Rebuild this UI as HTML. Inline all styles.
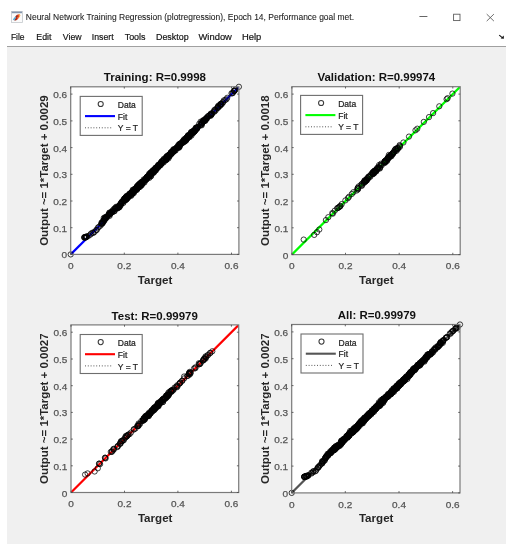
<!DOCTYPE html>
<html><head><meta charset="utf-8"><title>Neural Network Training Regression (plotregression)</title>
<style>
html,body{margin:0;padding:0;background:#fff;}
body{width:512px;height:550px;overflow:hidden;position:relative;font-family:"Liberation Sans", Arial, Helvetica, sans-serif;}
svg{filter:blur(0.3px);}
svg text{font-family:"Liberation Sans", Arial, Helvetica, sans-serif;}
</style></head><body>
<svg width="512" height="550" viewBox="0 0 512 550" style="position:absolute;left:0;top:0">
<rect x="0" y="0" width="512" height="550" fill="#ffffff"/>
<rect x="7" y="46" width="499" height="498" fill="#f0f0f0"/>
<rect x="7" y="46" width="499" height="1" fill="#a0a0a0"/>
<g><rect x="11.4" y="11.4" width="11" height="11" fill="#fbfbfb" stroke="#c4c8cc" stroke-width="0.8"/><rect x="11.8" y="11.6" width="10.2" height="1.6" fill="#8496ad"/><polygon points="12.8,19.6 15.2,16.6 16.2,17.2 14.2,20.4" fill="#4fb0e0"/><polygon points="15.2,16.6 17.0,14.8 18.2,15.6 17.2,19.6 16.0,20.4 14.2,20.4 16.2,17.2" fill="#9c2a1c"/><polygon points="17.0,14.8 18.6,14.2 19.6,15.2 18.4,18.6 17.0,19.8 16.6,19.4 18.2,15.6" fill="#ee4a1a"/><polygon points="18.6,14.2 19.8,14.0 20.4,15.4 19.4,17.4 18.6,17.8 19.6,15.2" fill="#f4a53a"/></g>
<text x="25.8" y="20.3" font-size="8.9" textLength="328.2" lengthAdjust="spacingAndGlyphs" fill="#222" stroke="#222" stroke-width="0.08">Neural Network Training Regression (plotregression), Epoch 14, Performance goal met.</text>
<rect x="419.4" y="16" width="8" height="0.9" fill="#555"/>
<rect x="453.6" y="14.2" width="6.4" height="6.4" fill="none" stroke="#555" stroke-width="0.85"/>
<path d="M486.7,14.1 L493.9,21.1 M493.9,14.1 L486.7,21.1" stroke="#555" stroke-width="0.85" fill="none"/>
<text x="10.9" y="40.3" font-size="9.2" textLength="13.7" lengthAdjust="spacingAndGlyphs" fill="#111" stroke="#111" stroke-width="0.18">File</text>
<text x="36.3" y="40.3" font-size="9.2" textLength="15.2" lengthAdjust="spacingAndGlyphs" fill="#111" stroke="#111" stroke-width="0.18">Edit</text>
<text x="62.8" y="40.3" font-size="9.2" textLength="18.8" lengthAdjust="spacingAndGlyphs" fill="#111" stroke="#111" stroke-width="0.18">View</text>
<text x="91.8" y="40.3" font-size="9.2" textLength="21.8" lengthAdjust="spacingAndGlyphs" fill="#111" stroke="#111" stroke-width="0.18">Insert</text>
<text x="124.7" y="40.3" font-size="9.2" textLength="20.8" lengthAdjust="spacingAndGlyphs" fill="#111" stroke="#111" stroke-width="0.18">Tools</text>
<text x="156.0" y="40.3" font-size="9.2" textLength="32.6" lengthAdjust="spacingAndGlyphs" fill="#111" stroke="#111" stroke-width="0.18">Desktop</text>
<text x="198.5" y="40.3" font-size="9.2" textLength="33.4" lengthAdjust="spacingAndGlyphs" fill="#111" stroke="#111" stroke-width="0.18">Window</text>
<text x="241.9" y="40.3" font-size="9.2" textLength="19.3" lengthAdjust="spacingAndGlyphs" fill="#111" stroke="#111" stroke-width="0.18">Help</text>
<path d="M499.2,35.1 L502.3,37.6" stroke="#111" stroke-width="1.1"/><polygon points="503.9,38.7 500.7,38.5 503.7,35.6" fill="#111"/>
<rect x="70.7" y="86.8" width="168.2" height="167.6" fill="#ffffff"/>
<clipPath id="ctrain"><rect x="70.7" y="86.8" width="168.2" height="167.6"/></clipPath>
<g clip-path="url(#ctrain)">
<line x1="70.7" y1="254.4" x2="238.9" y2="86.8" stroke="#000" stroke-width="0.6" stroke-dasharray="0.8 1.6"/>
<line x1="70.7" y1="254.4" x2="238.9" y2="86.8" stroke="#0000ff" stroke-width="2.2"/>
</g>
<g fill="none" stroke="#000" stroke-width="1.0" stroke-opacity="0.75"><circle cx="70.7" cy="254.4" r="2.65"/><circle cx="238.9" cy="86.8" r="2.65"/><circle cx="85.6" cy="236.9" r="2.65"/><circle cx="84.4" cy="237.1" r="2.65"/><circle cx="86.5" cy="237.0" r="2.65"/><circle cx="86.4" cy="236.9" r="2.65"/><circle cx="84.3" cy="237.7" r="2.65"/><circle cx="84.5" cy="237.4" r="2.65"/><circle cx="86.0" cy="237.0" r="2.65"/><circle cx="85.1" cy="237.5" r="2.65"/><circle cx="87.0" cy="236.4" r="2.65"/><circle cx="85.9" cy="237.3" r="2.65"/><circle cx="88.6" cy="235.8" r="2.65"/><circle cx="85.4" cy="237.0" r="2.65"/><circle cx="90.4" cy="234.6" r="2.65"/><circle cx="91.1" cy="233.5" r="2.65"/><circle cx="92.7" cy="232.6" r="2.65"/><circle cx="93.4" cy="232.9" r="2.65"/><circle cx="94.6" cy="231.9" r="2.65"/><circle cx="96.2" cy="230.1" r="2.65"/><circle cx="96.8" cy="229.8" r="2.65"/><circle cx="97.9" cy="227.6" r="2.65"/><circle cx="98.9" cy="226.9" r="2.65"/><circle cx="100.6" cy="225.6" r="2.65"/><circle cx="106.7" cy="217.7" r="2.65"/><circle cx="121.4" cy="203.7" r="2.65"/><circle cx="118.0" cy="207.4" r="2.65"/><circle cx="103.7" cy="218.1" r="2.65"/><circle cx="110.7" cy="212.8" r="2.65"/><circle cx="112.4" cy="211.8" r="2.65"/><circle cx="101.9" cy="223.8" r="2.65"/><circle cx="114.4" cy="211.0" r="2.65"/><circle cx="121.4" cy="203.8" r="2.65"/><circle cx="114.9" cy="208.1" r="2.65"/><circle cx="114.5" cy="211.2" r="2.65"/><circle cx="123.0" cy="200.9" r="2.65"/><circle cx="112.0" cy="211.7" r="2.65"/><circle cx="117.3" cy="207.6" r="2.65"/><circle cx="116.1" cy="206.8" r="2.65"/><circle cx="107.6" cy="215.9" r="2.65"/><circle cx="110.0" cy="213.7" r="2.65"/><circle cx="111.8" cy="212.0" r="2.65"/><circle cx="104.9" cy="218.5" r="2.65"/><circle cx="118.9" cy="205.9" r="2.65"/><circle cx="104.0" cy="220.0" r="2.65"/><circle cx="121.3" cy="202.5" r="2.65"/><circle cx="102.9" cy="222.7" r="2.65"/><circle cx="121.6" cy="202.7" r="2.65"/><circle cx="120.1" cy="204.3" r="2.65"/><circle cx="110.7" cy="213.4" r="2.65"/><circle cx="109.4" cy="212.6" r="2.65"/><circle cx="104.5" cy="220.7" r="2.65"/><circle cx="105.1" cy="218.4" r="2.65"/><circle cx="112.3" cy="210.7" r="2.65"/><circle cx="114.7" cy="209.4" r="2.65"/><circle cx="110.8" cy="212.7" r="2.65"/><circle cx="109.6" cy="215.9" r="2.65"/><circle cx="117.1" cy="208.4" r="2.65"/><circle cx="113.0" cy="211.7" r="2.65"/><circle cx="102.2" cy="223.4" r="2.65"/><circle cx="122.0" cy="202.3" r="2.65"/><circle cx="119.6" cy="207.0" r="2.65"/><circle cx="110.1" cy="213.7" r="2.65"/><circle cx="115.8" cy="208.3" r="2.65"/><circle cx="102.4" cy="221.8" r="2.65"/><circle cx="104.8" cy="218.7" r="2.65"/><circle cx="108.9" cy="214.6" r="2.65"/><circle cx="104.5" cy="219.3" r="2.65"/><circle cx="103.4" cy="221.1" r="2.65"/><circle cx="121.4" cy="203.1" r="2.65"/><circle cx="115.3" cy="208.6" r="2.65"/><circle cx="109.1" cy="213.9" r="2.65"/><circle cx="109.5" cy="212.9" r="2.65"/><circle cx="124.1" cy="198.9" r="2.65"/><circle cx="111.9" cy="212.1" r="2.65"/><circle cx="103.4" cy="220.9" r="2.65"/><circle cx="109.0" cy="214.7" r="2.65"/><circle cx="104.8" cy="217.4" r="2.65"/><circle cx="101.5" cy="222.6" r="2.65"/><circle cx="104.4" cy="219.8" r="2.65"/><circle cx="113.7" cy="209.2" r="2.65"/><circle cx="123.8" cy="200.3" r="2.65"/><circle cx="121.1" cy="203.8" r="2.65"/><circle cx="109.5" cy="214.6" r="2.65"/><circle cx="104.9" cy="218.6" r="2.65"/><circle cx="119.2" cy="206.9" r="2.65"/><circle cx="108.7" cy="214.6" r="2.65"/><circle cx="124.0" cy="198.8" r="2.65"/><circle cx="120.9" cy="203.3" r="2.65"/><circle cx="118.2" cy="208.1" r="2.65"/><circle cx="106.3" cy="217.9" r="2.65"/><circle cx="101.7" cy="223.5" r="2.65"/><circle cx="101.6" cy="223.6" r="2.65"/><circle cx="117.1" cy="206.8" r="2.65"/><circle cx="123.3" cy="203.0" r="2.65"/><circle cx="124.0" cy="199.6" r="2.65"/><circle cx="123.3" cy="201.5" r="2.65"/><circle cx="106.3" cy="216.7" r="2.65"/><circle cx="105.6" cy="217.4" r="2.65"/><circle cx="122.0" cy="201.4" r="2.65"/><circle cx="120.6" cy="205.4" r="2.65"/><circle cx="119.6" cy="205.1" r="2.65"/><circle cx="103.0" cy="222.5" r="2.65"/><circle cx="119.2" cy="207.3" r="2.65"/><circle cx="174.6" cy="150.7" r="2.65"/><circle cx="177.2" cy="147.5" r="2.65"/><circle cx="146.6" cy="177.3" r="2.65"/><circle cx="150.8" cy="176.0" r="2.65"/><circle cx="151.2" cy="172.0" r="2.65"/><circle cx="135.7" cy="189.5" r="2.65"/><circle cx="132.8" cy="190.8" r="2.65"/><circle cx="178.4" cy="144.9" r="2.65"/><circle cx="134.1" cy="189.5" r="2.65"/><circle cx="168.4" cy="158.5" r="2.65"/><circle cx="147.8" cy="177.3" r="2.65"/><circle cx="125.3" cy="199.2" r="2.65"/><circle cx="189.4" cy="136.2" r="2.65"/><circle cx="186.9" cy="138.9" r="2.65"/><circle cx="153.4" cy="170.1" r="2.65"/><circle cx="138.5" cy="187.5" r="2.65"/><circle cx="141.2" cy="183.7" r="2.65"/><circle cx="163.6" cy="160.4" r="2.65"/><circle cx="141.7" cy="183.4" r="2.65"/><circle cx="185.3" cy="139.4" r="2.65"/><circle cx="148.0" cy="177.7" r="2.65"/><circle cx="184.9" cy="139.7" r="2.65"/><circle cx="152.5" cy="171.2" r="2.65"/><circle cx="159.9" cy="165.2" r="2.65"/><circle cx="159.4" cy="164.3" r="2.65"/><circle cx="136.6" cy="188.0" r="2.65"/><circle cx="124.6" cy="199.5" r="2.65"/><circle cx="156.0" cy="169.1" r="2.65"/><circle cx="172.9" cy="152.6" r="2.65"/><circle cx="159.0" cy="165.8" r="2.65"/><circle cx="161.5" cy="163.0" r="2.65"/><circle cx="161.9" cy="163.2" r="2.65"/><circle cx="141.0" cy="184.0" r="2.65"/><circle cx="158.3" cy="164.8" r="2.65"/><circle cx="162.0" cy="162.6" r="2.65"/><circle cx="154.0" cy="172.5" r="2.65"/><circle cx="165.4" cy="160.3" r="2.65"/><circle cx="170.7" cy="154.0" r="2.65"/><circle cx="154.6" cy="171.0" r="2.65"/><circle cx="187.4" cy="137.7" r="2.65"/><circle cx="171.2" cy="152.0" r="2.65"/><circle cx="141.7" cy="184.5" r="2.65"/><circle cx="161.8" cy="161.2" r="2.65"/><circle cx="133.5" cy="191.9" r="2.65"/><circle cx="132.5" cy="192.6" r="2.65"/><circle cx="140.4" cy="184.1" r="2.65"/><circle cx="129.2" cy="196.1" r="2.65"/><circle cx="184.4" cy="141.8" r="2.65"/><circle cx="134.7" cy="190.4" r="2.65"/><circle cx="133.9" cy="192.1" r="2.65"/><circle cx="183.5" cy="140.8" r="2.65"/><circle cx="188.1" cy="136.9" r="2.65"/><circle cx="151.0" cy="176.3" r="2.65"/><circle cx="180.1" cy="144.5" r="2.65"/><circle cx="135.1" cy="190.6" r="2.65"/><circle cx="147.0" cy="177.2" r="2.65"/><circle cx="137.4" cy="187.9" r="2.65"/><circle cx="125.6" cy="197.4" r="2.65"/><circle cx="161.4" cy="163.3" r="2.65"/><circle cx="146.5" cy="178.0" r="2.65"/><circle cx="166.1" cy="158.8" r="2.65"/><circle cx="190.3" cy="134.7" r="2.65"/><circle cx="177.1" cy="147.2" r="2.65"/><circle cx="142.1" cy="182.6" r="2.65"/><circle cx="127.0" cy="197.3" r="2.65"/><circle cx="133.0" cy="192.5" r="2.65"/><circle cx="152.6" cy="170.6" r="2.65"/><circle cx="141.6" cy="183.9" r="2.65"/><circle cx="134.3" cy="189.4" r="2.65"/><circle cx="171.2" cy="154.0" r="2.65"/><circle cx="130.3" cy="193.1" r="2.65"/><circle cx="152.8" cy="171.3" r="2.65"/><circle cx="129.2" cy="194.2" r="2.65"/><circle cx="178.0" cy="147.2" r="2.65"/><circle cx="129.9" cy="194.5" r="2.65"/><circle cx="182.1" cy="143.0" r="2.65"/><circle cx="154.7" cy="170.5" r="2.65"/><circle cx="186.4" cy="137.6" r="2.65"/><circle cx="142.3" cy="181.7" r="2.65"/><circle cx="140.3" cy="183.6" r="2.65"/><circle cx="131.6" cy="192.9" r="2.65"/><circle cx="137.8" cy="186.7" r="2.65"/><circle cx="145.2" cy="179.9" r="2.65"/><circle cx="143.7" cy="179.5" r="2.65"/><circle cx="157.8" cy="166.4" r="2.65"/><circle cx="125.5" cy="198.0" r="2.65"/><circle cx="141.1" cy="182.2" r="2.65"/><circle cx="161.2" cy="163.2" r="2.65"/><circle cx="137.0" cy="189.8" r="2.65"/><circle cx="131.4" cy="193.0" r="2.65"/><circle cx="179.2" cy="146.6" r="2.65"/><circle cx="180.2" cy="144.2" r="2.65"/><circle cx="150.7" cy="175.3" r="2.65"/><circle cx="190.1" cy="134.9" r="2.65"/><circle cx="147.3" cy="176.7" r="2.65"/><circle cx="166.9" cy="158.9" r="2.65"/><circle cx="151.4" cy="173.3" r="2.65"/><circle cx="133.0" cy="191.5" r="2.65"/><circle cx="129.0" cy="195.5" r="2.65"/><circle cx="135.2" cy="190.2" r="2.65"/><circle cx="130.0" cy="193.7" r="2.65"/><circle cx="169.2" cy="156.9" r="2.65"/><circle cx="143.2" cy="181.4" r="2.65"/><circle cx="155.1" cy="168.8" r="2.65"/><circle cx="134.9" cy="190.5" r="2.65"/><circle cx="188.8" cy="136.0" r="2.65"/><circle cx="189.5" cy="136.1" r="2.65"/><circle cx="189.0" cy="136.1" r="2.65"/><circle cx="145.1" cy="179.6" r="2.65"/><circle cx="149.9" cy="174.7" r="2.65"/><circle cx="156.1" cy="169.1" r="2.65"/><circle cx="158.1" cy="166.5" r="2.65"/><circle cx="124.6" cy="199.6" r="2.65"/><circle cx="151.1" cy="173.1" r="2.65"/><circle cx="127.1" cy="196.6" r="2.65"/><circle cx="139.9" cy="184.7" r="2.65"/><circle cx="163.6" cy="162.5" r="2.65"/><circle cx="168.4" cy="156.6" r="2.65"/><circle cx="172.3" cy="151.8" r="2.65"/><circle cx="146.2" cy="179.1" r="2.65"/><circle cx="190.3" cy="133.8" r="2.65"/><circle cx="167.4" cy="156.1" r="2.65"/><circle cx="127.2" cy="196.2" r="2.65"/><circle cx="166.3" cy="159.9" r="2.65"/><circle cx="173.5" cy="151.1" r="2.65"/><circle cx="159.4" cy="165.7" r="2.65"/><circle cx="158.1" cy="165.7" r="2.65"/><circle cx="179.7" cy="146.5" r="2.65"/><circle cx="163.4" cy="160.1" r="2.65"/><circle cx="170.8" cy="154.8" r="2.65"/><circle cx="139.7" cy="184.5" r="2.65"/><circle cx="148.5" cy="176.0" r="2.65"/><circle cx="131.3" cy="192.8" r="2.65"/><circle cx="166.4" cy="159.2" r="2.65"/><circle cx="166.3" cy="158.8" r="2.65"/><circle cx="124.5" cy="200.6" r="2.65"/><circle cx="177.8" cy="147.0" r="2.65"/><circle cx="160.2" cy="165.5" r="2.65"/><circle cx="168.5" cy="154.9" r="2.65"/><circle cx="141.2" cy="182.9" r="2.65"/><circle cx="129.3" cy="195.4" r="2.65"/><circle cx="138.1" cy="185.2" r="2.65"/><circle cx="173.9" cy="149.8" r="2.65"/><circle cx="149.9" cy="174.8" r="2.65"/><circle cx="156.4" cy="168.8" r="2.65"/><circle cx="165.7" cy="160.4" r="2.65"/><circle cx="167.4" cy="156.8" r="2.65"/><circle cx="141.3" cy="183.1" r="2.65"/><circle cx="174.1" cy="151.0" r="2.65"/><circle cx="125.1" cy="198.1" r="2.65"/><circle cx="128.4" cy="196.3" r="2.65"/><circle cx="170.7" cy="152.7" r="2.65"/><circle cx="169.6" cy="155.4" r="2.65"/><circle cx="155.4" cy="168.1" r="2.65"/><circle cx="155.6" cy="167.7" r="2.65"/><circle cx="137.7" cy="185.8" r="2.65"/><circle cx="189.9" cy="135.0" r="2.65"/><circle cx="155.1" cy="169.6" r="2.65"/><circle cx="179.3" cy="144.6" r="2.65"/><circle cx="142.3" cy="182.6" r="2.65"/><circle cx="138.4" cy="185.8" r="2.65"/><circle cx="163.3" cy="161.6" r="2.65"/><circle cx="133.8" cy="193.1" r="2.65"/><circle cx="133.2" cy="191.9" r="2.65"/><circle cx="179.3" cy="147.4" r="2.65"/><circle cx="171.4" cy="153.4" r="2.65"/><circle cx="139.8" cy="184.1" r="2.65"/><circle cx="126.0" cy="199.0" r="2.65"/><circle cx="124.6" cy="200.7" r="2.65"/><circle cx="144.5" cy="180.1" r="2.65"/><circle cx="133.7" cy="191.5" r="2.65"/><circle cx="180.6" cy="143.6" r="2.65"/><circle cx="124.4" cy="199.8" r="2.65"/><circle cx="132.4" cy="194.1" r="2.65"/><circle cx="186.4" cy="139.0" r="2.65"/><circle cx="143.7" cy="182.8" r="2.65"/><circle cx="149.3" cy="177.9" r="2.65"/><circle cx="163.8" cy="158.8" r="2.65"/><circle cx="148.5" cy="176.8" r="2.65"/><circle cx="127.5" cy="196.6" r="2.65"/><circle cx="131.1" cy="193.2" r="2.65"/><circle cx="187.0" cy="138.6" r="2.65"/><circle cx="141.0" cy="183.8" r="2.65"/><circle cx="137.0" cy="186.7" r="2.65"/><circle cx="149.3" cy="173.5" r="2.65"/><circle cx="178.7" cy="146.6" r="2.65"/><circle cx="166.6" cy="156.3" r="2.65"/><circle cx="161.1" cy="164.6" r="2.65"/><circle cx="172.5" cy="150.8" r="2.65"/><circle cx="154.5" cy="169.6" r="2.65"/><circle cx="174.7" cy="150.5" r="2.65"/><circle cx="127.6" cy="197.4" r="2.65"/><circle cx="186.4" cy="137.8" r="2.65"/><circle cx="147.3" cy="176.6" r="2.65"/><circle cx="144.3" cy="180.6" r="2.65"/><circle cx="141.7" cy="185.3" r="2.65"/><circle cx="168.3" cy="156.7" r="2.65"/><circle cx="150.7" cy="172.8" r="2.65"/><circle cx="135.5" cy="188.9" r="2.65"/><circle cx="185.0" cy="139.4" r="2.65"/><circle cx="157.6" cy="166.6" r="2.65"/><circle cx="191.1" cy="132.0" r="2.65"/><circle cx="154.5" cy="169.8" r="2.65"/><circle cx="130.4" cy="193.8" r="2.65"/><circle cx="147.2" cy="176.9" r="2.65"/><circle cx="141.6" cy="182.7" r="2.65"/><circle cx="162.5" cy="161.0" r="2.65"/><circle cx="152.0" cy="173.6" r="2.65"/><circle cx="152.0" cy="173.4" r="2.65"/><circle cx="147.0" cy="177.8" r="2.65"/><circle cx="128.5" cy="196.4" r="2.65"/><circle cx="132.7" cy="189.8" r="2.65"/><circle cx="158.0" cy="167.8" r="2.65"/><circle cx="138.8" cy="187.2" r="2.65"/><circle cx="142.5" cy="182.2" r="2.65"/><circle cx="154.2" cy="169.5" r="2.65"/><circle cx="188.2" cy="135.7" r="2.65"/><circle cx="125.8" cy="200.0" r="2.65"/><circle cx="126.5" cy="198.4" r="2.65"/><circle cx="156.0" cy="170.4" r="2.65"/><circle cx="163.7" cy="160.1" r="2.65"/><circle cx="186.4" cy="138.5" r="2.65"/><circle cx="179.6" cy="143.7" r="2.65"/><circle cx="141.0" cy="185.6" r="2.65"/><circle cx="131.6" cy="192.5" r="2.65"/><circle cx="170.0" cy="153.8" r="2.65"/><circle cx="187.4" cy="137.8" r="2.65"/><circle cx="175.6" cy="150.5" r="2.65"/><circle cx="155.0" cy="169.9" r="2.65"/><circle cx="176.7" cy="148.1" r="2.65"/><circle cx="139.9" cy="183.7" r="2.65"/><circle cx="144.7" cy="180.6" r="2.65"/><circle cx="132.9" cy="191.9" r="2.65"/><circle cx="171.1" cy="152.3" r="2.65"/><circle cx="131.8" cy="192.0" r="2.65"/><circle cx="163.4" cy="160.8" r="2.65"/><circle cx="150.3" cy="174.1" r="2.65"/><circle cx="125.0" cy="198.1" r="2.65"/><circle cx="144.5" cy="182.3" r="2.65"/><circle cx="167.5" cy="156.6" r="2.65"/><circle cx="183.5" cy="142.0" r="2.65"/><circle cx="140.9" cy="183.7" r="2.65"/><circle cx="188.7" cy="136.5" r="2.65"/><circle cx="125.8" cy="199.3" r="2.65"/><circle cx="157.7" cy="167.3" r="2.65"/><circle cx="141.5" cy="184.0" r="2.65"/><circle cx="169.0" cy="155.1" r="2.65"/><circle cx="126.6" cy="198.1" r="2.65"/><circle cx="147.0" cy="178.8" r="2.65"/><circle cx="137.6" cy="186.5" r="2.65"/><circle cx="177.7" cy="147.1" r="2.65"/><circle cx="138.1" cy="187.7" r="2.65"/><circle cx="189.3" cy="136.3" r="2.65"/><circle cx="139.8" cy="183.4" r="2.65"/><circle cx="139.1" cy="185.5" r="2.65"/><circle cx="188.1" cy="137.6" r="2.65"/><circle cx="157.5" cy="166.8" r="2.65"/><circle cx="152.3" cy="171.8" r="2.65"/><circle cx="168.9" cy="155.3" r="2.65"/><circle cx="150.7" cy="174.1" r="2.65"/><circle cx="138.6" cy="185.7" r="2.65"/><circle cx="127.8" cy="196.8" r="2.65"/><circle cx="128.3" cy="197.6" r="2.65"/><circle cx="183.5" cy="140.2" r="2.65"/><circle cx="173.4" cy="149.3" r="2.65"/><circle cx="146.4" cy="178.3" r="2.65"/><circle cx="136.7" cy="186.7" r="2.65"/><circle cx="126.4" cy="198.5" r="2.65"/><circle cx="168.8" cy="156.4" r="2.65"/><circle cx="146.5" cy="177.5" r="2.65"/><circle cx="135.7" cy="188.4" r="2.65"/><circle cx="147.9" cy="176.7" r="2.65"/><circle cx="188.3" cy="135.0" r="2.65"/><circle cx="138.2" cy="184.9" r="2.65"/><circle cx="148.2" cy="175.7" r="2.65"/><circle cx="153.3" cy="172.8" r="2.65"/><circle cx="127.6" cy="197.7" r="2.65"/><circle cx="185.9" cy="138.8" r="2.65"/><circle cx="137.2" cy="188.7" r="2.65"/><circle cx="126.3" cy="196.6" r="2.65"/><circle cx="151.8" cy="172.2" r="2.65"/><circle cx="127.0" cy="198.8" r="2.65"/><circle cx="126.6" cy="195.9" r="2.65"/><circle cx="141.5" cy="182.4" r="2.65"/><circle cx="174.4" cy="149.7" r="2.65"/><circle cx="142.6" cy="182.6" r="2.65"/><circle cx="188.5" cy="137.0" r="2.65"/><circle cx="172.3" cy="152.8" r="2.65"/><circle cx="145.5" cy="179.1" r="2.65"/><circle cx="174.9" cy="149.7" r="2.65"/><circle cx="185.7" cy="140.6" r="2.65"/><circle cx="125.9" cy="200.0" r="2.65"/><circle cx="140.0" cy="186.9" r="2.65"/><circle cx="188.2" cy="136.4" r="2.65"/><circle cx="150.2" cy="174.4" r="2.65"/><circle cx="157.4" cy="166.3" r="2.65"/><circle cx="186.5" cy="137.8" r="2.65"/><circle cx="173.8" cy="149.5" r="2.65"/><circle cx="179.4" cy="145.2" r="2.65"/><circle cx="146.3" cy="179.6" r="2.65"/><circle cx="145.7" cy="179.9" r="2.65"/><circle cx="129.6" cy="193.8" r="2.65"/><circle cx="137.5" cy="187.2" r="2.65"/><circle cx="128.6" cy="196.5" r="2.65"/><circle cx="126.6" cy="198.5" r="2.65"/><circle cx="190.0" cy="135.2" r="2.65"/><circle cx="183.5" cy="140.7" r="2.65"/><circle cx="129.9" cy="194.7" r="2.65"/><circle cx="130.8" cy="195.3" r="2.65"/><circle cx="154.3" cy="170.3" r="2.65"/><circle cx="140.0" cy="185.8" r="2.65"/><circle cx="169.5" cy="154.6" r="2.65"/><circle cx="174.4" cy="149.6" r="2.65"/><circle cx="132.4" cy="193.4" r="2.65"/><circle cx="180.7" cy="144.5" r="2.65"/><circle cx="149.3" cy="174.2" r="2.65"/><circle cx="173.8" cy="150.8" r="2.65"/><circle cx="140.8" cy="183.3" r="2.65"/><circle cx="134.6" cy="189.3" r="2.65"/><circle cx="146.2" cy="179.2" r="2.65"/><circle cx="150.9" cy="172.7" r="2.65"/><circle cx="139.8" cy="184.9" r="2.65"/><circle cx="178.5" cy="147.9" r="2.65"/><circle cx="131.2" cy="195.8" r="2.65"/><circle cx="156.1" cy="167.8" r="2.65"/><circle cx="185.6" cy="140.9" r="2.65"/><circle cx="127.0" cy="197.5" r="2.65"/><circle cx="137.0" cy="187.3" r="2.65"/><circle cx="189.5" cy="137.2" r="2.65"/><circle cx="149.3" cy="176.4" r="2.65"/><circle cx="182.4" cy="143.2" r="2.65"/><circle cx="176.4" cy="148.1" r="2.65"/><circle cx="187.7" cy="136.3" r="2.65"/><circle cx="165.9" cy="158.1" r="2.65"/><circle cx="138.9" cy="186.2" r="2.65"/><circle cx="138.0" cy="186.4" r="2.65"/><circle cx="141.4" cy="184.3" r="2.65"/><circle cx="137.9" cy="187.5" r="2.65"/><circle cx="125.1" cy="199.8" r="2.65"/><circle cx="136.7" cy="186.8" r="2.65"/><circle cx="145.2" cy="179.0" r="2.65"/><circle cx="161.0" cy="162.1" r="2.65"/><circle cx="128.5" cy="195.3" r="2.65"/><circle cx="161.2" cy="162.9" r="2.65"/><circle cx="167.1" cy="157.1" r="2.65"/><circle cx="170.9" cy="153.5" r="2.65"/><circle cx="151.8" cy="173.0" r="2.65"/><circle cx="188.2" cy="136.0" r="2.65"/><circle cx="145.2" cy="180.2" r="2.65"/><circle cx="152.2" cy="172.7" r="2.65"/><circle cx="182.2" cy="141.8" r="2.65"/><circle cx="137.5" cy="187.2" r="2.65"/><circle cx="173.1" cy="151.6" r="2.65"/><circle cx="184.7" cy="140.1" r="2.65"/><circle cx="152.7" cy="171.5" r="2.65"/><circle cx="183.5" cy="142.2" r="2.65"/><circle cx="155.2" cy="169.3" r="2.65"/><circle cx="161.3" cy="163.2" r="2.65"/><circle cx="167.2" cy="157.1" r="2.65"/><circle cx="166.0" cy="158.8" r="2.65"/><circle cx="149.2" cy="175.9" r="2.65"/><circle cx="143.3" cy="181.4" r="2.65"/><circle cx="159.2" cy="165.0" r="2.65"/><circle cx="157.2" cy="167.6" r="2.65"/><circle cx="178.2" cy="146.0" r="2.65"/><circle cx="132.8" cy="192.1" r="2.65"/><circle cx="187.5" cy="136.4" r="2.65"/><circle cx="127.9" cy="196.7" r="2.65"/><circle cx="186.4" cy="140.0" r="2.65"/><circle cx="165.9" cy="157.5" r="2.65"/><circle cx="179.6" cy="144.4" r="2.65"/><circle cx="139.2" cy="184.2" r="2.65"/><circle cx="151.4" cy="172.2" r="2.65"/><circle cx="136.6" cy="189.5" r="2.65"/><circle cx="138.9" cy="186.6" r="2.65"/><circle cx="150.0" cy="174.0" r="2.65"/><circle cx="132.6" cy="192.2" r="2.65"/><circle cx="184.4" cy="139.0" r="2.65"/><circle cx="127.1" cy="198.7" r="2.65"/><circle cx="126.9" cy="198.1" r="2.65"/><circle cx="180.5" cy="143.5" r="2.65"/><circle cx="161.2" cy="162.6" r="2.65"/><circle cx="166.3" cy="158.6" r="2.65"/><circle cx="163.4" cy="160.4" r="2.65"/><circle cx="152.8" cy="172.3" r="2.65"/><circle cx="153.7" cy="171.7" r="2.65"/><circle cx="125.9" cy="199.2" r="2.65"/><circle cx="140.1" cy="185.3" r="2.65"/><circle cx="175.5" cy="149.1" r="2.65"/><circle cx="136.3" cy="189.4" r="2.65"/><circle cx="156.0" cy="168.2" r="2.65"/><circle cx="153.2" cy="171.1" r="2.65"/><circle cx="130.5" cy="195.2" r="2.65"/><circle cx="127.0" cy="197.0" r="2.65"/><circle cx="167.0" cy="156.4" r="2.65"/><circle cx="176.4" cy="147.6" r="2.65"/><circle cx="158.6" cy="165.0" r="2.65"/><circle cx="149.6" cy="174.6" r="2.65"/><circle cx="188.0" cy="135.8" r="2.65"/><circle cx="191.1" cy="132.6" r="2.65"/><circle cx="203.1" cy="121.7" r="2.65"/><circle cx="207.1" cy="118.5" r="2.65"/><circle cx="199.2" cy="123.9" r="2.65"/><circle cx="194.0" cy="131.6" r="2.65"/><circle cx="204.0" cy="120.7" r="2.65"/><circle cx="197.0" cy="128.2" r="2.65"/><circle cx="203.5" cy="120.5" r="2.65"/><circle cx="195.7" cy="127.7" r="2.65"/><circle cx="204.4" cy="120.0" r="2.65"/><circle cx="206.1" cy="118.1" r="2.65"/><circle cx="194.7" cy="130.4" r="2.65"/><circle cx="196.5" cy="127.5" r="2.65"/><circle cx="191.9" cy="132.9" r="2.65"/><circle cx="206.4" cy="118.2" r="2.65"/><circle cx="202.3" cy="122.4" r="2.65"/><circle cx="203.9" cy="121.4" r="2.65"/><circle cx="193.2" cy="133.1" r="2.65"/><circle cx="197.1" cy="128.1" r="2.65"/><circle cx="205.4" cy="120.8" r="2.65"/><circle cx="205.5" cy="119.9" r="2.65"/><circle cx="193.0" cy="130.8" r="2.65"/><circle cx="197.7" cy="127.4" r="2.65"/><circle cx="204.2" cy="121.1" r="2.65"/><circle cx="200.6" cy="121.7" r="2.65"/><circle cx="197.1" cy="127.8" r="2.65"/><circle cx="194.2" cy="131.8" r="2.65"/><circle cx="203.3" cy="120.2" r="2.65"/><circle cx="195.4" cy="129.1" r="2.65"/><circle cx="201.6" cy="122.3" r="2.65"/><circle cx="202.0" cy="123.2" r="2.65"/><circle cx="196.3" cy="128.4" r="2.65"/><circle cx="193.7" cy="131.3" r="2.65"/><circle cx="201.2" cy="124.8" r="2.65"/><circle cx="205.7" cy="118.9" r="2.65"/><circle cx="193.4" cy="131.4" r="2.65"/><circle cx="191.7" cy="132.0" r="2.65"/><circle cx="191.4" cy="133.9" r="2.65"/><circle cx="197.1" cy="127.6" r="2.65"/><circle cx="194.9" cy="131.1" r="2.65"/><circle cx="194.6" cy="131.0" r="2.65"/><circle cx="201.4" cy="124.1" r="2.65"/><circle cx="206.4" cy="118.6" r="2.65"/><circle cx="195.2" cy="129.5" r="2.65"/><circle cx="201.6" cy="123.1" r="2.65"/><circle cx="205.3" cy="119.5" r="2.65"/><circle cx="195.6" cy="130.3" r="2.65"/><circle cx="191.5" cy="134.2" r="2.65"/><circle cx="197.0" cy="129.0" r="2.65"/><circle cx="201.7" cy="125.3" r="2.65"/><circle cx="203.1" cy="121.2" r="2.65"/><circle cx="195.3" cy="129.5" r="2.65"/><circle cx="199.9" cy="125.3" r="2.65"/><circle cx="197.9" cy="127.1" r="2.65"/><circle cx="203.8" cy="120.9" r="2.65"/><circle cx="191.5" cy="135.5" r="2.65"/><circle cx="193.6" cy="132.1" r="2.65"/><circle cx="194.5" cy="131.3" r="2.65"/><circle cx="201.6" cy="124.1" r="2.65"/><circle cx="204.4" cy="120.3" r="2.65"/><circle cx="196.2" cy="128.2" r="2.65"/><circle cx="208.1" cy="116.0" r="2.65"/><circle cx="218.0" cy="107.9" r="2.65"/><circle cx="207.5" cy="116.9" r="2.65"/><circle cx="214.3" cy="111.8" r="2.65"/><circle cx="218.3" cy="107.2" r="2.65"/><circle cx="209.0" cy="116.0" r="2.65"/><circle cx="210.8" cy="113.6" r="2.65"/><circle cx="218.5" cy="106.5" r="2.65"/><circle cx="217.7" cy="106.8" r="2.65"/><circle cx="211.3" cy="114.6" r="2.65"/><circle cx="215.6" cy="110.6" r="2.65"/><circle cx="215.1" cy="109.5" r="2.65"/><circle cx="211.3" cy="114.9" r="2.65"/><circle cx="210.6" cy="115.9" r="2.65"/><circle cx="220.4" cy="104.2" r="2.65"/><circle cx="210.9" cy="114.1" r="2.65"/><circle cx="218.4" cy="105.6" r="2.65"/><circle cx="212.2" cy="113.2" r="2.65"/><circle cx="220.4" cy="105.0" r="2.65"/><circle cx="220.8" cy="103.9" r="2.65"/><circle cx="216.7" cy="108.7" r="2.65"/><circle cx="221.8" cy="104.2" r="2.65"/><circle cx="214.3" cy="110.2" r="2.65"/><circle cx="220.0" cy="106.0" r="2.65"/><circle cx="213.9" cy="111.4" r="2.65"/><circle cx="211.9" cy="114.0" r="2.65"/><circle cx="210.5" cy="114.7" r="2.65"/><circle cx="220.8" cy="104.5" r="2.65"/><circle cx="209.5" cy="115.2" r="2.65"/><circle cx="221.1" cy="103.9" r="2.65"/><circle cx="227.2" cy="97.8" r="2.65"/><circle cx="222.8" cy="102.3" r="2.65"/><circle cx="232.4" cy="93.3" r="2.65"/><circle cx="233.0" cy="92.7" r="2.65"/><circle cx="223.1" cy="102.4" r="2.65"/><circle cx="234.2" cy="91.2" r="2.65"/><circle cx="234.2" cy="90.8" r="2.65"/><circle cx="234.9" cy="90.3" r="2.65"/><circle cx="235.6" cy="89.3" r="2.65"/><circle cx="225.2" cy="100.0" r="2.65"/><circle cx="223.8" cy="100.4" r="2.65"/><circle cx="234.1" cy="90.8" r="2.65"/><circle cx="231.5" cy="93.3" r="2.65"/><circle cx="226.4" cy="99.3" r="2.65"/></g>
<rect x="70.7" y="86.8" width="168.2" height="167.6" fill="none" stroke="#7a7a7a" stroke-width="1.2"/>
<path d="M70.7,254.4h1.8M238.9,254.4h-1.8M70.7,227.7h1.8M238.9,227.7h-1.8M70.7,201.0h1.8M238.9,201.0h-1.8M70.7,174.3h1.8M238.9,174.3h-1.8M70.7,147.6h1.8M238.9,147.6h-1.8M70.7,120.9h1.8M238.9,120.9h-1.8M70.7,94.1h1.8M238.9,94.1h-1.8M70.7,254.4v-1.8M70.7,86.8v1.8M124.3,254.4v-1.8M124.3,86.8v1.8M177.9,254.4v-1.8M177.9,86.8v1.8M231.5,254.4v-1.8M231.5,86.8v1.8" stroke="#444" stroke-width="0.8" fill="none"/>
<text x="67.1" y="258.4" text-anchor="end" font-size="9.3" textLength="5.6" lengthAdjust="spacingAndGlyphs" fill="#555" stroke="#555" stroke-width="0.25">0</text>
<text x="67.1" y="231.7" text-anchor="end" font-size="9.3" textLength="13.9" lengthAdjust="spacingAndGlyphs" fill="#555" stroke="#555" stroke-width="0.25">0.1</text>
<text x="67.1" y="205.0" text-anchor="end" font-size="9.3" textLength="13.9" lengthAdjust="spacingAndGlyphs" fill="#555" stroke="#555" stroke-width="0.25">0.2</text>
<text x="67.1" y="178.3" text-anchor="end" font-size="9.3" textLength="13.9" lengthAdjust="spacingAndGlyphs" fill="#555" stroke="#555" stroke-width="0.25">0.3</text>
<text x="67.1" y="151.6" text-anchor="end" font-size="9.3" textLength="13.9" lengthAdjust="spacingAndGlyphs" fill="#555" stroke="#555" stroke-width="0.25">0.4</text>
<text x="67.1" y="124.9" text-anchor="end" font-size="9.3" textLength="13.9" lengthAdjust="spacingAndGlyphs" fill="#555" stroke="#555" stroke-width="0.25">0.5</text>
<text x="67.1" y="98.1" text-anchor="end" font-size="9.3" textLength="13.9" lengthAdjust="spacingAndGlyphs" fill="#555" stroke="#555" stroke-width="0.25">0.6</text>
<text x="70.7" y="269.1" text-anchor="middle" font-size="9.3" textLength="5.6" lengthAdjust="spacingAndGlyphs" fill="#555" stroke="#555" stroke-width="0.25">0</text>
<text x="124.3" y="269.1" text-anchor="middle" font-size="9.3" textLength="13.9" lengthAdjust="spacingAndGlyphs" fill="#555" stroke="#555" stroke-width="0.25">0.2</text>
<text x="177.9" y="269.1" text-anchor="middle" font-size="9.3" textLength="13.9" lengthAdjust="spacingAndGlyphs" fill="#555" stroke="#555" stroke-width="0.25">0.4</text>
<text x="231.5" y="269.1" text-anchor="middle" font-size="9.3" textLength="13.9" lengthAdjust="spacingAndGlyphs" fill="#555" stroke="#555" stroke-width="0.25">0.6</text>
<text x="103.8" y="80.9" font-size="11.2" font-weight="bold" textLength="102.2" lengthAdjust="spacingAndGlyphs" fill="#111">Training: R=0.9998</text>
<text x="155.1" y="283.9" text-anchor="middle" font-size="11.2" font-weight="bold" textLength="34.6" lengthAdjust="spacingAndGlyphs" fill="#262626">Target</text>
<text transform="translate(47.5,170.6) rotate(-90)" x="0" y="0" text-anchor="middle" font-size="11.2" font-weight="bold" textLength="150.5" lengthAdjust="spacingAndGlyphs" fill="#262626">Output ~= 1*Target + 0.0029</text>
<rect x="80.2" y="96.4" width="62" height="39" fill="#ffffff" stroke="#6e6e6e" stroke-width="1.1"/>
<circle cx="100.7" cy="104.0" r="2.55" fill="none" stroke="#3a3a3a" stroke-width="1.05"/>
<text x="117.80000000000001" y="108.0" font-size="8.5" fill="#1e1e1e" stroke="#1e1e1e" stroke-width="0.22">Data</text>
<line x1="85.0" y1="116.10000000000001" x2="115.0" y2="116.10000000000001" stroke="#0000ff" stroke-width="2.1"/>
<text x="117.80000000000001" y="119.60000000000001" font-size="8.5" fill="#1e1e1e" stroke="#1e1e1e" stroke-width="0.22">Fit</text>
<line x1="85.0" y1="127.80000000000001" x2="112.7" y2="127.80000000000001" stroke="#444" stroke-width="0.9" stroke-dasharray="1 1.8"/>
<text x="117.80000000000001" y="131.4" font-size="8.5" fill="#1e1e1e" stroke="#1e1e1e" stroke-width="0.22">Y = T</text>
<rect x="291.9" y="86.7" width="168.3" height="167.9" fill="#ffffff"/>
<clipPath id="cval"><rect x="291.9" y="86.7" width="168.3" height="167.9"/></clipPath>
<g clip-path="url(#cval)">
<line x1="291.9" y1="254.6" x2="460.2" y2="86.7" stroke="#000" stroke-width="0.6" stroke-dasharray="0.8 1.6"/>
<line x1="291.9" y1="254.6" x2="460.2" y2="86.7" stroke="#00ff00" stroke-width="2.2"/>
</g>
<g fill="none" stroke="#000" stroke-width="1.0" stroke-opacity="0.75"><circle cx="303.7" cy="239.6" r="2.65"/><circle cx="314.2" cy="234.9" r="2.65"/><circle cx="317.0" cy="232.2" r="2.65"/><circle cx="319.3" cy="229.5" r="2.65"/><circle cx="325.9" cy="220.1" r="2.65"/><circle cx="328.3" cy="217.2" r="2.65"/><circle cx="332.3" cy="213.1" r="2.65"/><circle cx="337.4" cy="208.2" r="2.65"/><circle cx="341.7" cy="204.1" r="2.65"/><circle cx="345.4" cy="200.4" r="2.65"/><circle cx="349.0" cy="196.8" r="2.65"/><circle cx="353.4" cy="192.2" r="2.65"/><circle cx="357.8" cy="187.9" r="2.65"/><circle cx="403.4" cy="142.5" r="2.65"/><circle cx="409.0" cy="136.6" r="2.65"/><circle cx="415.5" cy="130.3" r="2.65"/><circle cx="417.3" cy="128.7" r="2.65"/><circle cx="423.8" cy="121.9" r="2.65"/><circle cx="429.0" cy="117.1" r="2.65"/><circle cx="433.1" cy="113.1" r="2.65"/><circle cx="439.3" cy="106.3" r="2.65"/><circle cx="446.6" cy="99.2" r="2.65"/><circle cx="447.6" cy="98.2" r="2.65"/><circle cx="452.4" cy="93.6" r="2.65"/><circle cx="334.7" cy="210.7" r="2.65"/><circle cx="337.4" cy="208.2" r="2.65"/><circle cx="340.3" cy="205.9" r="2.65"/><circle cx="338.7" cy="207.4" r="2.65"/><circle cx="339.3" cy="206.9" r="2.65"/><circle cx="340.3" cy="206.3" r="2.65"/><circle cx="356.7" cy="190.5" r="2.65"/><circle cx="347.9" cy="198.2" r="2.65"/><circle cx="332.9" cy="213.6" r="2.65"/><circle cx="351.8" cy="194.0" r="2.65"/><circle cx="372.5" cy="174.0" r="2.65"/><circle cx="366.9" cy="180.4" r="2.65"/><circle cx="394.6" cy="150.1" r="2.65"/><circle cx="364.9" cy="180.3" r="2.65"/><circle cx="357.7" cy="188.0" r="2.65"/><circle cx="399.6" cy="145.1" r="2.65"/><circle cx="357.8" cy="189.4" r="2.65"/><circle cx="391.8" cy="154.3" r="2.65"/><circle cx="365.5" cy="181.5" r="2.65"/><circle cx="393.3" cy="152.9" r="2.65"/><circle cx="368.8" cy="176.6" r="2.65"/><circle cx="366.8" cy="179.6" r="2.65"/><circle cx="387.6" cy="159.0" r="2.65"/><circle cx="384.9" cy="161.3" r="2.65"/><circle cx="361.1" cy="184.7" r="2.65"/><circle cx="391.4" cy="156.3" r="2.65"/><circle cx="384.6" cy="162.2" r="2.65"/><circle cx="374.5" cy="170.8" r="2.65"/><circle cx="395.8" cy="148.7" r="2.65"/><circle cx="358.7" cy="186.4" r="2.65"/><circle cx="366.5" cy="179.9" r="2.65"/><circle cx="379.1" cy="165.0" r="2.65"/><circle cx="373.9" cy="171.7" r="2.65"/><circle cx="377.4" cy="169.2" r="2.65"/><circle cx="380.4" cy="165.7" r="2.65"/><circle cx="385.3" cy="162.5" r="2.65"/><circle cx="372.6" cy="173.9" r="2.65"/><circle cx="393.8" cy="151.9" r="2.65"/><circle cx="386.0" cy="160.2" r="2.65"/><circle cx="376.4" cy="170.3" r="2.65"/><circle cx="390.8" cy="155.8" r="2.65"/><circle cx="377.4" cy="169.0" r="2.65"/><circle cx="395.6" cy="150.6" r="2.65"/><circle cx="370.5" cy="175.0" r="2.65"/><circle cx="387.8" cy="158.1" r="2.65"/><circle cx="364.3" cy="182.3" r="2.65"/><circle cx="368.2" cy="178.5" r="2.65"/><circle cx="364.5" cy="180.6" r="2.65"/><circle cx="371.7" cy="173.5" r="2.65"/><circle cx="388.9" cy="154.9" r="2.65"/><circle cx="362.0" cy="183.7" r="2.65"/><circle cx="374.1" cy="172.2" r="2.65"/><circle cx="399.8" cy="146.0" r="2.65"/><circle cx="376.3" cy="171.4" r="2.65"/><circle cx="366.0" cy="180.4" r="2.65"/><circle cx="366.5" cy="180.0" r="2.65"/><circle cx="374.3" cy="170.9" r="2.65"/><circle cx="391.6" cy="154.4" r="2.65"/><circle cx="387.4" cy="160.2" r="2.65"/><circle cx="377.5" cy="168.7" r="2.65"/><circle cx="363.7" cy="183.2" r="2.65"/><circle cx="389.4" cy="157.4" r="2.65"/><circle cx="396.6" cy="150.8" r="2.65"/><circle cx="389.8" cy="155.9" r="2.65"/><circle cx="375.7" cy="170.3" r="2.65"/><circle cx="395.4" cy="149.3" r="2.65"/><circle cx="390.8" cy="156.0" r="2.65"/><circle cx="386.8" cy="161.2" r="2.65"/><circle cx="385.1" cy="161.8" r="2.65"/><circle cx="384.6" cy="161.4" r="2.65"/><circle cx="361.8" cy="185.8" r="2.65"/><circle cx="388.2" cy="157.2" r="2.65"/><circle cx="384.6" cy="161.6" r="2.65"/><circle cx="377.1" cy="168.0" r="2.65"/><circle cx="384.3" cy="163.1" r="2.65"/><circle cx="397.5" cy="147.9" r="2.65"/><circle cx="365.5" cy="181.6" r="2.65"/><circle cx="374.3" cy="173.2" r="2.65"/><circle cx="378.6" cy="167.3" r="2.65"/><circle cx="380.9" cy="165.3" r="2.65"/><circle cx="364.5" cy="181.2" r="2.65"/><circle cx="379.9" cy="168.5" r="2.65"/><circle cx="361.9" cy="185.3" r="2.65"/><circle cx="388.4" cy="158.3" r="2.65"/><circle cx="379.6" cy="167.7" r="2.65"/><circle cx="380.0" cy="167.6" r="2.65"/><circle cx="375.2" cy="170.3" r="2.65"/><circle cx="387.0" cy="159.4" r="2.65"/><circle cx="374.5" cy="171.7" r="2.65"/><circle cx="399.9" cy="146.9" r="2.65"/><circle cx="372.9" cy="172.6" r="2.65"/><circle cx="374.8" cy="171.1" r="2.65"/><circle cx="358.2" cy="188.8" r="2.65"/><circle cx="387.6" cy="158.1" r="2.65"/><circle cx="372.7" cy="173.5" r="2.65"/><circle cx="389.4" cy="156.1" r="2.65"/><circle cx="397.9" cy="148.9" r="2.65"/><circle cx="392.0" cy="154.3" r="2.65"/><circle cx="374.4" cy="171.6" r="2.65"/><circle cx="390.9" cy="154.8" r="2.65"/><circle cx="392.4" cy="154.6" r="2.65"/><circle cx="381.7" cy="165.3" r="2.65"/><circle cx="367.3" cy="178.0" r="2.65"/><circle cx="385.0" cy="161.4" r="2.65"/><circle cx="392.7" cy="153.0" r="2.65"/><circle cx="370.2" cy="176.9" r="2.65"/><circle cx="381.1" cy="163.7" r="2.65"/><circle cx="372.8" cy="172.0" r="2.65"/><circle cx="394.1" cy="152.2" r="2.65"/><circle cx="368.5" cy="176.7" r="2.65"/><circle cx="375.9" cy="170.2" r="2.65"/><circle cx="388.6" cy="157.5" r="2.65"/><circle cx="369.7" cy="176.4" r="2.65"/><circle cx="378.2" cy="167.2" r="2.65"/><circle cx="376.0" cy="171.1" r="2.65"/><circle cx="373.2" cy="174.1" r="2.65"/><circle cx="397.5" cy="148.5" r="2.65"/><circle cx="393.1" cy="153.3" r="2.65"/><circle cx="396.5" cy="149.6" r="2.65"/><circle cx="393.3" cy="153.4" r="2.65"/><circle cx="384.8" cy="161.3" r="2.65"/><circle cx="398.5" cy="147.8" r="2.65"/><circle cx="385.8" cy="160.4" r="2.65"/><circle cx="363.7" cy="182.0" r="2.65"/><circle cx="367.6" cy="178.4" r="2.65"/></g>
<rect x="291.9" y="86.7" width="168.3" height="167.9" fill="none" stroke="#7a7a7a" stroke-width="1.2"/>
<path d="M291.9,254.6h1.8M460.2,254.6h-1.8M291.9,227.8h1.8M460.2,227.8h-1.8M291.9,201.1h1.8M460.2,201.1h-1.8M291.9,174.3h1.8M460.2,174.3h-1.8M291.9,147.6h1.8M460.2,147.6h-1.8M291.9,120.8h1.8M460.2,120.8h-1.8M291.9,94.1h1.8M460.2,94.1h-1.8M291.9,254.6v-1.8M291.9,86.7v1.8M345.5,254.6v-1.8M345.5,86.7v1.8M399.2,254.6v-1.8M399.2,86.7v1.8M452.8,254.6v-1.8M452.8,86.7v1.8" stroke="#444" stroke-width="0.8" fill="none"/>
<text x="288.3" y="258.6" text-anchor="end" font-size="9.3" textLength="5.6" lengthAdjust="spacingAndGlyphs" fill="#555" stroke="#555" stroke-width="0.25">0</text>
<text x="288.3" y="231.8" text-anchor="end" font-size="9.3" textLength="13.9" lengthAdjust="spacingAndGlyphs" fill="#555" stroke="#555" stroke-width="0.25">0.1</text>
<text x="288.3" y="205.1" text-anchor="end" font-size="9.3" textLength="13.9" lengthAdjust="spacingAndGlyphs" fill="#555" stroke="#555" stroke-width="0.25">0.2</text>
<text x="288.3" y="178.3" text-anchor="end" font-size="9.3" textLength="13.9" lengthAdjust="spacingAndGlyphs" fill="#555" stroke="#555" stroke-width="0.25">0.3</text>
<text x="288.3" y="151.6" text-anchor="end" font-size="9.3" textLength="13.9" lengthAdjust="spacingAndGlyphs" fill="#555" stroke="#555" stroke-width="0.25">0.4</text>
<text x="288.3" y="124.8" text-anchor="end" font-size="9.3" textLength="13.9" lengthAdjust="spacingAndGlyphs" fill="#555" stroke="#555" stroke-width="0.25">0.5</text>
<text x="288.3" y="98.1" text-anchor="end" font-size="9.3" textLength="13.9" lengthAdjust="spacingAndGlyphs" fill="#555" stroke="#555" stroke-width="0.25">0.6</text>
<text x="291.9" y="269.3" text-anchor="middle" font-size="9.3" textLength="5.6" lengthAdjust="spacingAndGlyphs" fill="#555" stroke="#555" stroke-width="0.25">0</text>
<text x="345.5" y="269.3" text-anchor="middle" font-size="9.3" textLength="13.9" lengthAdjust="spacingAndGlyphs" fill="#555" stroke="#555" stroke-width="0.25">0.2</text>
<text x="399.2" y="269.3" text-anchor="middle" font-size="9.3" textLength="13.9" lengthAdjust="spacingAndGlyphs" fill="#555" stroke="#555" stroke-width="0.25">0.4</text>
<text x="452.8" y="269.3" text-anchor="middle" font-size="9.3" textLength="13.9" lengthAdjust="spacingAndGlyphs" fill="#555" stroke="#555" stroke-width="0.25">0.6</text>
<text x="317.4" y="80.8" font-size="11.2" font-weight="bold" textLength="117.8" lengthAdjust="spacingAndGlyphs" fill="#111">Validation: R=0.99974</text>
<text x="376.3" y="284.1" text-anchor="middle" font-size="11.2" font-weight="bold" textLength="34.6" lengthAdjust="spacingAndGlyphs" fill="#262626">Target</text>
<text transform="translate(268.7,170.7) rotate(-90)" x="0" y="0" text-anchor="middle" font-size="11.2" font-weight="bold" textLength="150.5" lengthAdjust="spacingAndGlyphs" fill="#262626">Output ~= 1*Target + 0.0018</text>
<rect x="300.6" y="95.4" width="62" height="39" fill="#ffffff" stroke="#6e6e6e" stroke-width="1.1"/>
<circle cx="321.1" cy="103.0" r="2.55" fill="none" stroke="#3a3a3a" stroke-width="1.05"/>
<text x="338.20000000000005" y="107.0" font-size="8.5" fill="#1e1e1e" stroke="#1e1e1e" stroke-width="0.22">Data</text>
<line x1="305.40000000000003" y1="115.10000000000001" x2="335.40000000000003" y2="115.10000000000001" stroke="#00ff00" stroke-width="2.1"/>
<text x="338.20000000000005" y="118.60000000000001" font-size="8.5" fill="#1e1e1e" stroke="#1e1e1e" stroke-width="0.22">Fit</text>
<line x1="305.40000000000003" y1="126.80000000000001" x2="333.1" y2="126.80000000000001" stroke="#444" stroke-width="0.9" stroke-dasharray="1 1.8"/>
<text x="338.20000000000005" y="130.4" font-size="8.5" fill="#1e1e1e" stroke="#1e1e1e" stroke-width="0.22">Y = T</text>
<rect x="71.0" y="324.9" width="167.7" height="167.6" fill="#ffffff"/>
<clipPath id="ctest"><rect x="71.0" y="324.9" width="167.7" height="167.6"/></clipPath>
<g clip-path="url(#ctest)">
<line x1="71.0" y1="492.5" x2="238.7" y2="324.9" stroke="#000" stroke-width="0.6" stroke-dasharray="0.8 1.6"/>
<line x1="71.0" y1="492.5" x2="238.7" y2="324.9" stroke="#ff0000" stroke-width="2.2"/>
</g>
<g fill="none" stroke="#000" stroke-width="1.0" stroke-opacity="0.75"><circle cx="85.1" cy="474.6" r="2.65"/><circle cx="87.6" cy="473.4" r="2.65"/><circle cx="94.6" cy="471.5" r="2.65"/><circle cx="97.8" cy="468.3" r="2.65"/><circle cx="105.6" cy="458.4" r="2.65"/><circle cx="138.9" cy="424.3" r="2.65"/><circle cx="138.3" cy="425.4" r="2.65"/><circle cx="125.8" cy="437.3" r="2.65"/><circle cx="138.5" cy="425.9" r="2.65"/><circle cx="133.8" cy="429.3" r="2.65"/><circle cx="129.5" cy="434.2" r="2.65"/><circle cx="122.3" cy="441.0" r="2.65"/><circle cx="138.0" cy="426.1" r="2.65"/><circle cx="123.4" cy="439.9" r="2.65"/><circle cx="105.0" cy="457.7" r="2.65"/><circle cx="120.7" cy="441.8" r="2.65"/><circle cx="105.2" cy="457.8" r="2.65"/><circle cx="120.6" cy="443.6" r="2.65"/><circle cx="137.1" cy="426.2" r="2.65"/><circle cx="99.1" cy="463.7" r="2.65"/><circle cx="123.8" cy="440.2" r="2.65"/><circle cx="128.3" cy="434.6" r="2.65"/><circle cx="117.4" cy="446.5" r="2.65"/><circle cx="141.4" cy="420.9" r="2.65"/><circle cx="127.0" cy="435.8" r="2.65"/><circle cx="100.1" cy="464.1" r="2.65"/><circle cx="140.1" cy="423.9" r="2.65"/><circle cx="113.5" cy="448.9" r="2.65"/><circle cx="120.3" cy="443.1" r="2.65"/><circle cx="138.6" cy="423.5" r="2.65"/><circle cx="126.5" cy="436.5" r="2.65"/><circle cx="113.8" cy="449.0" r="2.65"/><circle cx="119.8" cy="444.0" r="2.65"/><circle cx="122.1" cy="441.1" r="2.65"/><circle cx="118.1" cy="445.7" r="2.65"/><circle cx="117.5" cy="447.0" r="2.65"/><circle cx="111.8" cy="451.9" r="2.65"/><circle cx="135.5" cy="428.5" r="2.65"/><circle cx="110.8" cy="451.9" r="2.65"/><circle cx="121.3" cy="440.9" r="2.65"/><circle cx="133.9" cy="429.5" r="2.65"/><circle cx="113.5" cy="450.0" r="2.65"/><circle cx="124.8" cy="437.9" r="2.65"/><circle cx="127.0" cy="436.3" r="2.65"/><circle cx="130.9" cy="432.6" r="2.65"/><circle cx="138.1" cy="425.4" r="2.65"/><circle cx="112.1" cy="451.2" r="2.65"/><circle cx="99.1" cy="463.6" r="2.65"/><circle cx="125.8" cy="435.9" r="2.65"/><circle cx="128.0" cy="434.9" r="2.65"/><circle cx="158.5" cy="406.3" r="2.65"/><circle cx="158.6" cy="405.3" r="2.65"/><circle cx="158.1" cy="405.9" r="2.65"/><circle cx="160.3" cy="402.5" r="2.65"/><circle cx="154.5" cy="407.3" r="2.65"/><circle cx="162.4" cy="400.2" r="2.65"/><circle cx="143.6" cy="419.1" r="2.65"/><circle cx="162.7" cy="399.3" r="2.65"/><circle cx="152.2" cy="411.5" r="2.65"/><circle cx="163.9" cy="398.8" r="2.65"/><circle cx="149.3" cy="414.7" r="2.65"/><circle cx="150.5" cy="413.2" r="2.65"/><circle cx="153.8" cy="408.9" r="2.65"/><circle cx="159.3" cy="403.5" r="2.65"/><circle cx="157.3" cy="405.8" r="2.65"/><circle cx="143.6" cy="418.3" r="2.65"/><circle cx="157.5" cy="404.5" r="2.65"/><circle cx="166.4" cy="396.7" r="2.65"/><circle cx="152.7" cy="410.3" r="2.65"/><circle cx="158.0" cy="402.9" r="2.65"/><circle cx="154.9" cy="409.0" r="2.65"/><circle cx="153.3" cy="408.7" r="2.65"/><circle cx="148.1" cy="414.2" r="2.65"/><circle cx="146.6" cy="416.4" r="2.65"/><circle cx="160.3" cy="402.7" r="2.65"/><circle cx="145.8" cy="416.9" r="2.65"/><circle cx="165.2" cy="397.9" r="2.65"/><circle cx="146.0" cy="415.7" r="2.65"/><circle cx="148.9" cy="414.0" r="2.65"/><circle cx="161.6" cy="401.3" r="2.65"/><circle cx="162.7" cy="400.1" r="2.65"/><circle cx="161.1" cy="401.1" r="2.65"/><circle cx="144.8" cy="419.3" r="2.65"/><circle cx="158.9" cy="404.3" r="2.65"/><circle cx="166.8" cy="397.1" r="2.65"/><circle cx="149.2" cy="412.5" r="2.65"/><circle cx="142.9" cy="420.4" r="2.65"/><circle cx="143.0" cy="420.9" r="2.65"/><circle cx="144.7" cy="419.6" r="2.65"/><circle cx="150.7" cy="412.4" r="2.65"/><circle cx="164.9" cy="398.6" r="2.65"/><circle cx="155.2" cy="407.0" r="2.65"/><circle cx="157.5" cy="405.2" r="2.65"/><circle cx="154.0" cy="409.2" r="2.65"/><circle cx="163.3" cy="400.1" r="2.65"/><circle cx="152.0" cy="411.7" r="2.65"/><circle cx="153.5" cy="410.5" r="2.65"/><circle cx="152.6" cy="409.9" r="2.65"/><circle cx="163.0" cy="402.0" r="2.65"/><circle cx="157.3" cy="405.8" r="2.65"/><circle cx="167.9" cy="394.9" r="2.65"/><circle cx="160.9" cy="401.8" r="2.65"/><circle cx="158.3" cy="405.3" r="2.65"/><circle cx="168.0" cy="394.5" r="2.65"/><circle cx="150.6" cy="413.4" r="2.65"/><circle cx="153.7" cy="408.7" r="2.65"/><circle cx="160.4" cy="403.2" r="2.65"/><circle cx="158.2" cy="403.6" r="2.65"/><circle cx="150.0" cy="414.0" r="2.65"/><circle cx="142.7" cy="420.4" r="2.65"/><circle cx="157.8" cy="404.3" r="2.65"/><circle cx="163.8" cy="399.1" r="2.65"/><circle cx="164.2" cy="399.0" r="2.65"/><circle cx="163.7" cy="398.6" r="2.65"/><circle cx="149.7" cy="414.1" r="2.65"/><circle cx="164.7" cy="397.9" r="2.65"/><circle cx="166.3" cy="397.9" r="2.65"/><circle cx="151.6" cy="410.5" r="2.65"/><circle cx="163.3" cy="399.2" r="2.65"/><circle cx="147.8" cy="415.2" r="2.65"/><circle cx="148.7" cy="416.2" r="2.65"/><circle cx="158.4" cy="405.1" r="2.65"/><circle cx="148.0" cy="415.9" r="2.65"/><circle cx="149.2" cy="413.8" r="2.65"/><circle cx="154.5" cy="409.9" r="2.65"/><circle cx="144.9" cy="417.6" r="2.65"/><circle cx="148.7" cy="415.7" r="2.65"/><circle cx="157.6" cy="404.0" r="2.65"/><circle cx="156.2" cy="407.9" r="2.65"/><circle cx="155.0" cy="408.5" r="2.65"/><circle cx="147.6" cy="415.7" r="2.65"/><circle cx="147.3" cy="415.9" r="2.65"/><circle cx="157.3" cy="406.5" r="2.65"/><circle cx="153.1" cy="410.4" r="2.65"/><circle cx="143.8" cy="419.3" r="2.65"/><circle cx="168.5" cy="394.8" r="2.65"/><circle cx="159.0" cy="403.7" r="2.65"/><circle cx="163.0" cy="399.4" r="2.65"/><circle cx="151.6" cy="410.5" r="2.65"/><circle cx="156.1" cy="406.7" r="2.65"/><circle cx="168.3" cy="394.7" r="2.65"/><circle cx="165.1" cy="399.0" r="2.65"/><circle cx="149.4" cy="413.5" r="2.65"/><circle cx="162.8" cy="402.0" r="2.65"/><circle cx="162.5" cy="399.6" r="2.65"/><circle cx="163.9" cy="398.6" r="2.65"/><circle cx="143.6" cy="419.5" r="2.65"/><circle cx="147.8" cy="415.0" r="2.65"/><circle cx="143.9" cy="418.8" r="2.65"/><circle cx="157.1" cy="405.3" r="2.65"/><circle cx="167.2" cy="396.5" r="2.65"/><circle cx="166.2" cy="395.8" r="2.65"/><circle cx="152.9" cy="409.7" r="2.65"/><circle cx="145.7" cy="416.7" r="2.65"/><circle cx="157.3" cy="405.9" r="2.65"/><circle cx="159.2" cy="402.6" r="2.65"/><circle cx="152.8" cy="410.5" r="2.65"/><circle cx="154.2" cy="407.6" r="2.65"/><circle cx="168.3" cy="392.9" r="2.65"/><circle cx="148.4" cy="414.0" r="2.65"/><circle cx="151.7" cy="411.1" r="2.65"/><circle cx="166.0" cy="395.7" r="2.65"/><circle cx="143.8" cy="420.1" r="2.65"/><circle cx="163.0" cy="400.3" r="2.65"/><circle cx="168.2" cy="396.0" r="2.65"/><circle cx="144.1" cy="418.1" r="2.65"/><circle cx="167.0" cy="395.0" r="2.65"/><circle cx="160.2" cy="403.2" r="2.65"/><circle cx="162.3" cy="399.7" r="2.65"/><circle cx="145.4" cy="417.9" r="2.65"/><circle cx="145.8" cy="416.6" r="2.65"/><circle cx="155.1" cy="407.6" r="2.65"/><circle cx="146.3" cy="416.1" r="2.65"/><circle cx="160.2" cy="401.5" r="2.65"/><circle cx="147.7" cy="415.2" r="2.65"/><circle cx="143.6" cy="418.9" r="2.65"/><circle cx="166.8" cy="396.4" r="2.65"/><circle cx="165.1" cy="397.6" r="2.65"/><circle cx="154.2" cy="409.1" r="2.65"/><circle cx="145.1" cy="416.4" r="2.65"/><circle cx="195.4" cy="368.2" r="2.65"/><circle cx="187.9" cy="375.8" r="2.65"/><circle cx="189.0" cy="373.0" r="2.65"/><circle cx="195.4" cy="367.3" r="2.65"/><circle cx="171.0" cy="391.7" r="2.65"/><circle cx="199.1" cy="364.3" r="2.65"/><circle cx="205.8" cy="357.4" r="2.65"/><circle cx="179.9" cy="383.4" r="2.65"/><circle cx="180.1" cy="382.7" r="2.65"/><circle cx="204.4" cy="358.8" r="2.65"/><circle cx="189.5" cy="373.1" r="2.65"/><circle cx="182.1" cy="380.6" r="2.65"/><circle cx="210.4" cy="352.9" r="2.65"/><circle cx="171.0" cy="391.2" r="2.65"/><circle cx="177.6" cy="386.1" r="2.65"/><circle cx="189.0" cy="374.2" r="2.65"/><circle cx="177.2" cy="385.3" r="2.65"/><circle cx="184.1" cy="376.5" r="2.65"/><circle cx="208.1" cy="355.1" r="2.65"/><circle cx="172.7" cy="390.7" r="2.65"/><circle cx="171.0" cy="390.6" r="2.65"/><circle cx="199.6" cy="364.0" r="2.65"/><circle cx="169.2" cy="391.9" r="2.65"/><circle cx="203.1" cy="360.2" r="2.65"/><circle cx="168.6" cy="394.1" r="2.65"/><circle cx="204.1" cy="359.4" r="2.65"/><circle cx="187.2" cy="376.0" r="2.65"/><circle cx="207.5" cy="355.3" r="2.65"/><circle cx="174.5" cy="387.7" r="2.65"/><circle cx="176.2" cy="386.6" r="2.65"/><circle cx="177.0" cy="387.2" r="2.65"/><circle cx="171.9" cy="390.3" r="2.65"/><circle cx="189.7" cy="372.8" r="2.65"/><circle cx="180.3" cy="382.5" r="2.65"/><circle cx="198.8" cy="363.3" r="2.65"/><circle cx="203.3" cy="360.2" r="2.65"/><circle cx="171.4" cy="391.9" r="2.65"/><circle cx="199.9" cy="364.1" r="2.65"/><circle cx="170.9" cy="391.5" r="2.65"/><circle cx="203.2" cy="360.5" r="2.65"/><circle cx="205.5" cy="356.4" r="2.65"/><circle cx="189.6" cy="371.9" r="2.65"/><circle cx="188.9" cy="374.0" r="2.65"/><circle cx="205.8" cy="357.3" r="2.65"/><circle cx="204.1" cy="358.5" r="2.65"/><circle cx="184.2" cy="378.4" r="2.65"/><circle cx="194.0" cy="368.5" r="2.65"/><circle cx="168.7" cy="395.0" r="2.65"/><circle cx="190.6" cy="372.5" r="2.65"/><circle cx="173.7" cy="389.6" r="2.65"/><circle cx="205.6" cy="358.7" r="2.65"/><circle cx="182.3" cy="380.9" r="2.65"/><circle cx="200.7" cy="363.0" r="2.65"/><circle cx="171.2" cy="390.7" r="2.65"/><circle cx="189.7" cy="374.6" r="2.65"/><circle cx="190.5" cy="373.4" r="2.65"/><circle cx="169.4" cy="393.8" r="2.65"/><circle cx="209.9" cy="353.1" r="2.65"/><circle cx="172.9" cy="389.7" r="2.65"/><circle cx="179.3" cy="383.7" r="2.65"/><circle cx="212.3" cy="351.3" r="2.65"/></g>
<rect x="71.0" y="324.9" width="167.7" height="167.6" fill="none" stroke="#7a7a7a" stroke-width="1.2"/>
<path d="M71.0,492.5h1.8M238.7,492.5h-1.8M71.0,465.8h1.8M238.7,465.8h-1.8M71.0,439.1h1.8M238.7,439.1h-1.8M71.0,412.4h1.8M238.7,412.4h-1.8M71.0,385.7h1.8M238.7,385.7h-1.8M71.0,359.0h1.8M238.7,359.0h-1.8M71.0,332.2h1.8M238.7,332.2h-1.8M71.0,492.5v-1.8M71.0,324.9v1.8M124.5,492.5v-1.8M124.5,324.9v1.8M177.9,492.5v-1.8M177.9,324.9v1.8M231.4,492.5v-1.8M231.4,324.9v1.8" stroke="#444" stroke-width="0.8" fill="none"/>
<text x="67.4" y="496.5" text-anchor="end" font-size="9.3" textLength="5.6" lengthAdjust="spacingAndGlyphs" fill="#555" stroke="#555" stroke-width="0.25">0</text>
<text x="67.4" y="469.8" text-anchor="end" font-size="9.3" textLength="13.9" lengthAdjust="spacingAndGlyphs" fill="#555" stroke="#555" stroke-width="0.25">0.1</text>
<text x="67.4" y="443.1" text-anchor="end" font-size="9.3" textLength="13.9" lengthAdjust="spacingAndGlyphs" fill="#555" stroke="#555" stroke-width="0.25">0.2</text>
<text x="67.4" y="416.4" text-anchor="end" font-size="9.3" textLength="13.9" lengthAdjust="spacingAndGlyphs" fill="#555" stroke="#555" stroke-width="0.25">0.3</text>
<text x="67.4" y="389.7" text-anchor="end" font-size="9.3" textLength="13.9" lengthAdjust="spacingAndGlyphs" fill="#555" stroke="#555" stroke-width="0.25">0.4</text>
<text x="67.4" y="363.0" text-anchor="end" font-size="9.3" textLength="13.9" lengthAdjust="spacingAndGlyphs" fill="#555" stroke="#555" stroke-width="0.25">0.5</text>
<text x="67.4" y="336.2" text-anchor="end" font-size="9.3" textLength="13.9" lengthAdjust="spacingAndGlyphs" fill="#555" stroke="#555" stroke-width="0.25">0.6</text>
<text x="71.0" y="507.2" text-anchor="middle" font-size="9.3" textLength="5.6" lengthAdjust="spacingAndGlyphs" fill="#555" stroke="#555" stroke-width="0.25">0</text>
<text x="124.5" y="507.2" text-anchor="middle" font-size="9.3" textLength="13.9" lengthAdjust="spacingAndGlyphs" fill="#555" stroke="#555" stroke-width="0.25">0.2</text>
<text x="177.9" y="507.2" text-anchor="middle" font-size="9.3" textLength="13.9" lengthAdjust="spacingAndGlyphs" fill="#555" stroke="#555" stroke-width="0.25">0.4</text>
<text x="231.4" y="507.2" text-anchor="middle" font-size="9.3" textLength="13.9" lengthAdjust="spacingAndGlyphs" fill="#555" stroke="#555" stroke-width="0.25">0.6</text>
<text x="111.6" y="319.6" font-size="11.2" font-weight="bold" textLength="86.2" lengthAdjust="spacingAndGlyphs" fill="#111">Test: R=0.99979</text>
<text x="155.2" y="522.0" text-anchor="middle" font-size="11.2" font-weight="bold" textLength="34.6" lengthAdjust="spacingAndGlyphs" fill="#262626">Target</text>
<text transform="translate(47.8,408.7) rotate(-90)" x="0" y="0" text-anchor="middle" font-size="11.2" font-weight="bold" textLength="150.5" lengthAdjust="spacingAndGlyphs" fill="#262626">Output ~= 1*Target + 0.0027</text>
<rect x="80.2" y="334.5" width="62" height="39" fill="#ffffff" stroke="#6e6e6e" stroke-width="1.1"/>
<circle cx="100.7" cy="342.1" r="2.55" fill="none" stroke="#3a3a3a" stroke-width="1.05"/>
<text x="117.80000000000001" y="346.1" font-size="8.5" fill="#1e1e1e" stroke="#1e1e1e" stroke-width="0.22">Data</text>
<line x1="85.0" y1="354.2" x2="115.0" y2="354.2" stroke="#ff0000" stroke-width="2.1"/>
<text x="117.80000000000001" y="357.7" font-size="8.5" fill="#1e1e1e" stroke="#1e1e1e" stroke-width="0.22">Fit</text>
<line x1="85.0" y1="365.9" x2="112.7" y2="365.9" stroke="#444" stroke-width="0.9" stroke-dasharray="1 1.8"/>
<text x="117.80000000000001" y="369.5" font-size="8.5" fill="#1e1e1e" stroke="#1e1e1e" stroke-width="0.22">Y = T</text>
<rect x="291.7" y="324.5" width="168.3" height="168.4" fill="#ffffff"/>
<clipPath id="call"><rect x="291.7" y="324.5" width="168.3" height="168.4"/></clipPath>
<g clip-path="url(#call)">
<line x1="291.7" y1="492.9" x2="460.0" y2="324.5" stroke="#000" stroke-width="0.6" stroke-dasharray="0.8 1.6"/>
<line x1="291.7" y1="492.9" x2="460.0" y2="324.5" stroke="#555555" stroke-width="2.2"/>
</g>
<g fill="none" stroke="#000" stroke-width="1.0" stroke-opacity="0.75"><circle cx="291.7" cy="492.9" r="2.65"/><circle cx="460.0" cy="324.5" r="2.65"/><circle cx="304.3" cy="476.8" r="2.65"/><circle cx="307.3" cy="475.9" r="2.65"/><circle cx="306.8" cy="476.0" r="2.65"/><circle cx="306.7" cy="476.6" r="2.65"/><circle cx="304.3" cy="476.7" r="2.65"/><circle cx="308.2" cy="475.7" r="2.65"/><circle cx="304.4" cy="476.7" r="2.65"/><circle cx="306.3" cy="476.5" r="2.65"/><circle cx="304.4" cy="476.6" r="2.65"/><circle cx="305.8" cy="476.0" r="2.65"/><circle cx="308.2" cy="475.3" r="2.65"/><circle cx="304.5" cy="477.1" r="2.65"/><circle cx="304.6" cy="476.8" r="2.65"/><circle cx="308.0" cy="475.4" r="2.65"/><circle cx="305.9" cy="476.4" r="2.65"/><circle cx="311.5" cy="473.5" r="2.65"/><circle cx="311.3" cy="472.7" r="2.65"/><circle cx="312.8" cy="472.4" r="2.65"/><circle cx="313.6" cy="471.2" r="2.65"/><circle cx="313.2" cy="471.4" r="2.65"/><circle cx="315.3" cy="471.3" r="2.65"/><circle cx="316.1" cy="470.5" r="2.65"/><circle cx="317.0" cy="468.6" r="2.65"/><circle cx="318.2" cy="467.6" r="2.65"/><circle cx="318.0" cy="467.1" r="2.65"/><circle cx="318.5" cy="467.3" r="2.65"/><circle cx="319.4" cy="466.0" r="2.65"/><circle cx="319.9" cy="465.3" r="2.65"/><circle cx="321.3" cy="463.8" r="2.65"/><circle cx="322.5" cy="462.2" r="2.65"/><circle cx="343.9" cy="440.9" r="2.65"/><circle cx="342.6" cy="442.4" r="2.65"/><circle cx="342.6" cy="440.0" r="2.65"/><circle cx="328.2" cy="454.3" r="2.65"/><circle cx="337.8" cy="446.2" r="2.65"/><circle cx="343.6" cy="439.1" r="2.65"/><circle cx="336.5" cy="447.1" r="2.65"/><circle cx="332.1" cy="449.8" r="2.65"/><circle cx="344.2" cy="439.6" r="2.65"/><circle cx="337.1" cy="445.9" r="2.65"/><circle cx="324.8" cy="460.5" r="2.65"/><circle cx="334.0" cy="450.3" r="2.65"/><circle cx="328.3" cy="455.5" r="2.65"/><circle cx="325.5" cy="457.5" r="2.65"/><circle cx="324.9" cy="458.1" r="2.65"/><circle cx="331.5" cy="450.9" r="2.65"/><circle cx="328.7" cy="454.0" r="2.65"/><circle cx="334.8" cy="448.1" r="2.65"/><circle cx="341.6" cy="443.3" r="2.65"/><circle cx="337.2" cy="447.3" r="2.65"/><circle cx="326.7" cy="456.2" r="2.65"/><circle cx="334.8" cy="449.4" r="2.65"/><circle cx="336.3" cy="448.0" r="2.65"/><circle cx="327.7" cy="454.9" r="2.65"/><circle cx="327.2" cy="456.4" r="2.65"/><circle cx="335.7" cy="447.8" r="2.65"/><circle cx="322.3" cy="463.4" r="2.65"/><circle cx="327.6" cy="453.8" r="2.65"/><circle cx="335.0" cy="449.0" r="2.65"/><circle cx="345.1" cy="438.5" r="2.65"/><circle cx="328.9" cy="453.8" r="2.65"/><circle cx="323.6" cy="461.0" r="2.65"/><circle cx="342.3" cy="441.9" r="2.65"/><circle cx="331.1" cy="451.7" r="2.65"/><circle cx="332.3" cy="450.7" r="2.65"/><circle cx="327.3" cy="455.9" r="2.65"/><circle cx="344.4" cy="439.3" r="2.65"/><circle cx="329.9" cy="453.5" r="2.65"/><circle cx="330.2" cy="453.2" r="2.65"/><circle cx="341.8" cy="443.2" r="2.65"/><circle cx="341.2" cy="444.4" r="2.65"/><circle cx="339.4" cy="445.0" r="2.65"/><circle cx="339.7" cy="446.0" r="2.65"/><circle cx="338.5" cy="445.2" r="2.65"/><circle cx="343.4" cy="439.2" r="2.65"/><circle cx="322.1" cy="461.4" r="2.65"/><circle cx="339.9" cy="445.3" r="2.65"/><circle cx="344.5" cy="439.7" r="2.65"/><circle cx="335.4" cy="449.3" r="2.65"/><circle cx="342.4" cy="440.8" r="2.65"/><circle cx="336.2" cy="448.1" r="2.65"/><circle cx="332.7" cy="449.6" r="2.65"/><circle cx="338.9" cy="445.4" r="2.65"/><circle cx="335.0" cy="447.5" r="2.65"/><circle cx="331.0" cy="452.6" r="2.65"/><circle cx="341.8" cy="440.8" r="2.65"/><circle cx="333.7" cy="449.9" r="2.65"/><circle cx="329.1" cy="453.5" r="2.65"/><circle cx="325.4" cy="458.8" r="2.65"/><circle cx="324.1" cy="460.3" r="2.65"/><circle cx="343.5" cy="441.0" r="2.65"/><circle cx="341.6" cy="441.0" r="2.65"/><circle cx="344.4" cy="439.0" r="2.65"/><circle cx="343.3" cy="439.7" r="2.65"/><circle cx="322.3" cy="461.3" r="2.65"/><circle cx="333.6" cy="449.1" r="2.65"/><circle cx="343.5" cy="440.1" r="2.65"/><circle cx="345.3" cy="439.3" r="2.65"/><circle cx="334.1" cy="450.3" r="2.65"/><circle cx="331.1" cy="451.9" r="2.65"/><circle cx="330.4" cy="453.2" r="2.65"/><circle cx="344.1" cy="440.0" r="2.65"/><circle cx="337.8" cy="446.5" r="2.65"/><circle cx="330.7" cy="452.2" r="2.65"/><circle cx="331.4" cy="452.6" r="2.65"/><circle cx="342.5" cy="441.8" r="2.65"/><circle cx="344.5" cy="440.0" r="2.65"/><circle cx="336.6" cy="447.0" r="2.65"/><circle cx="345.3" cy="438.8" r="2.65"/><circle cx="341.0" cy="442.2" r="2.65"/><circle cx="326.0" cy="458.0" r="2.65"/><circle cx="341.3" cy="440.7" r="2.65"/><circle cx="334.0" cy="447.7" r="2.65"/><circle cx="338.1" cy="444.7" r="2.65"/><circle cx="341.2" cy="441.2" r="2.65"/><circle cx="331.8" cy="451.2" r="2.65"/><circle cx="325.7" cy="457.7" r="2.65"/><circle cx="333.8" cy="448.3" r="2.65"/><circle cx="326.4" cy="455.9" r="2.65"/><circle cx="336.1" cy="446.3" r="2.65"/><circle cx="330.2" cy="451.4" r="2.65"/><circle cx="323.0" cy="461.4" r="2.65"/><circle cx="331.6" cy="451.1" r="2.65"/><circle cx="338.1" cy="446.5" r="2.65"/><circle cx="322.1" cy="463.2" r="2.65"/><circle cx="335.7" cy="446.2" r="2.65"/><circle cx="337.6" cy="445.9" r="2.65"/><circle cx="334.9" cy="447.4" r="2.65"/><circle cx="328.2" cy="455.2" r="2.65"/><circle cx="345.3" cy="439.1" r="2.65"/><circle cx="335.4" cy="448.4" r="2.65"/><circle cx="325.7" cy="457.2" r="2.65"/><circle cx="339.7" cy="444.2" r="2.65"/><circle cx="326.0" cy="456.7" r="2.65"/><circle cx="380.4" cy="402.8" r="2.65"/><circle cx="399.4" cy="385.5" r="2.65"/><circle cx="349.5" cy="432.7" r="2.65"/><circle cx="367.0" cy="416.7" r="2.65"/><circle cx="393.3" cy="390.8" r="2.65"/><circle cx="363.2" cy="420.2" r="2.65"/><circle cx="352.0" cy="431.0" r="2.65"/><circle cx="368.7" cy="415.7" r="2.65"/><circle cx="375.5" cy="408.5" r="2.65"/><circle cx="405.1" cy="378.7" r="2.65"/><circle cx="384.4" cy="398.4" r="2.65"/><circle cx="386.9" cy="397.1" r="2.65"/><circle cx="362.1" cy="419.9" r="2.65"/><circle cx="402.7" cy="380.7" r="2.65"/><circle cx="366.4" cy="416.1" r="2.65"/><circle cx="365.7" cy="419.1" r="2.65"/><circle cx="385.7" cy="397.0" r="2.65"/><circle cx="409.0" cy="375.2" r="2.65"/><circle cx="361.6" cy="423.4" r="2.65"/><circle cx="360.2" cy="422.8" r="2.65"/><circle cx="366.1" cy="417.0" r="2.65"/><circle cx="398.5" cy="386.1" r="2.65"/><circle cx="361.7" cy="421.9" r="2.65"/><circle cx="357.9" cy="425.4" r="2.65"/><circle cx="410.5" cy="373.8" r="2.65"/><circle cx="353.0" cy="429.9" r="2.65"/><circle cx="381.1" cy="403.3" r="2.65"/><circle cx="349.7" cy="433.5" r="2.65"/><circle cx="353.6" cy="430.0" r="2.65"/><circle cx="361.8" cy="422.9" r="2.65"/><circle cx="358.2" cy="425.9" r="2.65"/><circle cx="347.7" cy="435.3" r="2.65"/><circle cx="389.9" cy="394.2" r="2.65"/><circle cx="392.7" cy="390.7" r="2.65"/><circle cx="351.6" cy="432.6" r="2.65"/><circle cx="353.9" cy="428.4" r="2.65"/><circle cx="375.1" cy="407.9" r="2.65"/><circle cx="356.0" cy="429.3" r="2.65"/><circle cx="369.0" cy="414.9" r="2.65"/><circle cx="409.6" cy="375.2" r="2.65"/><circle cx="359.3" cy="423.6" r="2.65"/><circle cx="360.6" cy="423.7" r="2.65"/><circle cx="375.7" cy="407.1" r="2.65"/><circle cx="362.8" cy="420.0" r="2.65"/><circle cx="405.7" cy="379.0" r="2.65"/><circle cx="361.9" cy="422.5" r="2.65"/><circle cx="386.1" cy="397.2" r="2.65"/><circle cx="353.6" cy="428.7" r="2.65"/><circle cx="379.7" cy="404.7" r="2.65"/><circle cx="397.1" cy="386.9" r="2.65"/><circle cx="371.1" cy="413.2" r="2.65"/><circle cx="366.2" cy="418.6" r="2.65"/><circle cx="371.5" cy="411.8" r="2.65"/><circle cx="402.4" cy="381.2" r="2.65"/><circle cx="366.9" cy="417.2" r="2.65"/><circle cx="383.0" cy="401.1" r="2.65"/><circle cx="369.6" cy="414.9" r="2.65"/><circle cx="349.8" cy="434.0" r="2.65"/><circle cx="366.2" cy="417.6" r="2.65"/><circle cx="393.4" cy="389.9" r="2.65"/><circle cx="364.3" cy="421.2" r="2.65"/><circle cx="397.3" cy="385.4" r="2.65"/><circle cx="404.5" cy="379.1" r="2.65"/><circle cx="363.9" cy="420.3" r="2.65"/><circle cx="347.3" cy="436.9" r="2.65"/><circle cx="368.9" cy="416.1" r="2.65"/><circle cx="373.0" cy="411.5" r="2.65"/><circle cx="362.0" cy="423.1" r="2.65"/><circle cx="402.1" cy="382.5" r="2.65"/><circle cx="357.5" cy="425.4" r="2.65"/><circle cx="353.1" cy="429.7" r="2.65"/><circle cx="393.1" cy="391.4" r="2.65"/><circle cx="348.1" cy="435.1" r="2.65"/><circle cx="358.6" cy="425.2" r="2.65"/><circle cx="365.7" cy="418.4" r="2.65"/><circle cx="366.2" cy="417.5" r="2.65"/><circle cx="388.1" cy="394.9" r="2.65"/><circle cx="383.6" cy="398.6" r="2.65"/><circle cx="393.4" cy="390.4" r="2.65"/><circle cx="391.2" cy="391.6" r="2.65"/><circle cx="368.7" cy="413.4" r="2.65"/><circle cx="397.4" cy="386.4" r="2.65"/><circle cx="364.5" cy="417.6" r="2.65"/><circle cx="386.1" cy="397.2" r="2.65"/><circle cx="348.5" cy="435.2" r="2.65"/><circle cx="398.4" cy="385.0" r="2.65"/><circle cx="359.4" cy="423.2" r="2.65"/><circle cx="351.1" cy="433.5" r="2.65"/><circle cx="391.9" cy="393.0" r="2.65"/><circle cx="400.9" cy="382.1" r="2.65"/><circle cx="364.2" cy="417.9" r="2.65"/><circle cx="373.8" cy="408.8" r="2.65"/><circle cx="407.7" cy="376.7" r="2.65"/><circle cx="401.0" cy="384.2" r="2.65"/><circle cx="387.5" cy="396.6" r="2.65"/><circle cx="392.2" cy="391.5" r="2.65"/><circle cx="374.1" cy="411.7" r="2.65"/><circle cx="353.9" cy="430.3" r="2.65"/><circle cx="396.4" cy="386.1" r="2.65"/><circle cx="399.4" cy="384.1" r="2.65"/><circle cx="362.9" cy="423.3" r="2.65"/><circle cx="388.1" cy="396.3" r="2.65"/><circle cx="381.8" cy="401.9" r="2.65"/><circle cx="369.3" cy="414.1" r="2.65"/><circle cx="372.9" cy="410.6" r="2.65"/><circle cx="354.5" cy="428.8" r="2.65"/><circle cx="392.7" cy="391.4" r="2.65"/><circle cx="361.5" cy="422.9" r="2.65"/><circle cx="379.9" cy="405.8" r="2.65"/><circle cx="368.9" cy="414.2" r="2.65"/><circle cx="365.4" cy="418.1" r="2.65"/><circle cx="383.1" cy="401.0" r="2.65"/><circle cx="367.7" cy="415.7" r="2.65"/><circle cx="396.3" cy="388.5" r="2.65"/><circle cx="356.7" cy="427.9" r="2.65"/><circle cx="376.3" cy="408.5" r="2.65"/><circle cx="396.7" cy="386.9" r="2.65"/><circle cx="364.7" cy="419.5" r="2.65"/><circle cx="369.5" cy="414.2" r="2.65"/><circle cx="364.2" cy="419.4" r="2.65"/><circle cx="358.6" cy="425.7" r="2.65"/><circle cx="352.9" cy="432.0" r="2.65"/><circle cx="367.1" cy="417.5" r="2.65"/><circle cx="356.6" cy="427.2" r="2.65"/><circle cx="350.2" cy="430.9" r="2.65"/><circle cx="395.7" cy="388.0" r="2.65"/><circle cx="351.0" cy="433.4" r="2.65"/><circle cx="383.1" cy="403.0" r="2.65"/><circle cx="352.6" cy="432.3" r="2.65"/><circle cx="358.1" cy="425.8" r="2.65"/><circle cx="381.8" cy="400.0" r="2.65"/><circle cx="388.6" cy="395.1" r="2.65"/><circle cx="387.4" cy="395.1" r="2.65"/><circle cx="362.2" cy="422.2" r="2.65"/><circle cx="361.8" cy="421.9" r="2.65"/><circle cx="397.3" cy="386.4" r="2.65"/><circle cx="401.6" cy="382.4" r="2.65"/><circle cx="388.1" cy="395.1" r="2.65"/><circle cx="402.0" cy="381.4" r="2.65"/><circle cx="398.0" cy="386.1" r="2.65"/><circle cx="401.0" cy="382.9" r="2.65"/><circle cx="357.7" cy="427.0" r="2.65"/><circle cx="400.7" cy="383.5" r="2.65"/><circle cx="382.3" cy="400.7" r="2.65"/><circle cx="370.1" cy="413.4" r="2.65"/><circle cx="348.1" cy="436.1" r="2.65"/><circle cx="383.4" cy="401.5" r="2.65"/><circle cx="392.7" cy="392.3" r="2.65"/><circle cx="406.0" cy="376.9" r="2.65"/><circle cx="378.8" cy="405.3" r="2.65"/><circle cx="355.9" cy="428.4" r="2.65"/><circle cx="350.7" cy="432.0" r="2.65"/><circle cx="391.5" cy="391.8" r="2.65"/><circle cx="410.4" cy="372.8" r="2.65"/><circle cx="351.4" cy="431.6" r="2.65"/><circle cx="358.1" cy="425.6" r="2.65"/><circle cx="393.8" cy="388.3" r="2.65"/><circle cx="402.7" cy="381.2" r="2.65"/><circle cx="398.1" cy="386.4" r="2.65"/><circle cx="389.7" cy="393.7" r="2.65"/><circle cx="379.8" cy="404.6" r="2.65"/><circle cx="374.8" cy="408.6" r="2.65"/><circle cx="390.0" cy="392.9" r="2.65"/><circle cx="356.4" cy="429.3" r="2.65"/><circle cx="365.2" cy="419.7" r="2.65"/><circle cx="368.7" cy="414.7" r="2.65"/><circle cx="358.4" cy="424.8" r="2.65"/><circle cx="376.2" cy="407.1" r="2.65"/><circle cx="410.5" cy="372.0" r="2.65"/><circle cx="410.7" cy="374.3" r="2.65"/><circle cx="409.8" cy="375.3" r="2.65"/><circle cx="349.4" cy="435.5" r="2.65"/><circle cx="390.7" cy="393.6" r="2.65"/><circle cx="383.6" cy="400.6" r="2.65"/><circle cx="409.2" cy="376.0" r="2.65"/><circle cx="365.4" cy="418.3" r="2.65"/><circle cx="368.4" cy="415.3" r="2.65"/><circle cx="358.0" cy="426.1" r="2.65"/><circle cx="390.8" cy="393.3" r="2.65"/><circle cx="389.6" cy="394.0" r="2.65"/><circle cx="370.3" cy="414.3" r="2.65"/><circle cx="380.9" cy="403.3" r="2.65"/><circle cx="383.2" cy="400.9" r="2.65"/><circle cx="357.4" cy="426.3" r="2.65"/><circle cx="405.0" cy="379.3" r="2.65"/><circle cx="403.2" cy="380.9" r="2.65"/><circle cx="362.3" cy="420.7" r="2.65"/><circle cx="362.2" cy="421.1" r="2.65"/><circle cx="378.1" cy="406.2" r="2.65"/><circle cx="383.7" cy="400.2" r="2.65"/><circle cx="352.9" cy="432.3" r="2.65"/><circle cx="350.7" cy="433.2" r="2.65"/><circle cx="372.7" cy="410.2" r="2.65"/><circle cx="403.2" cy="380.2" r="2.65"/><circle cx="382.3" cy="401.8" r="2.65"/><circle cx="353.0" cy="432.4" r="2.65"/><circle cx="411.8" cy="372.3" r="2.65"/><circle cx="401.0" cy="383.3" r="2.65"/><circle cx="371.6" cy="411.1" r="2.65"/><circle cx="383.1" cy="398.7" r="2.65"/><circle cx="397.3" cy="385.5" r="2.65"/><circle cx="349.2" cy="433.4" r="2.65"/><circle cx="361.2" cy="422.8" r="2.65"/><circle cx="385.2" cy="398.4" r="2.65"/><circle cx="359.6" cy="424.7" r="2.65"/><circle cx="373.9" cy="408.5" r="2.65"/><circle cx="404.9" cy="380.3" r="2.65"/><circle cx="383.1" cy="401.9" r="2.65"/><circle cx="406.9" cy="376.7" r="2.65"/><circle cx="395.3" cy="388.9" r="2.65"/><circle cx="368.2" cy="415.5" r="2.65"/><circle cx="400.7" cy="384.5" r="2.65"/><circle cx="353.6" cy="431.5" r="2.65"/><circle cx="408.9" cy="374.0" r="2.65"/><circle cx="393.7" cy="388.9" r="2.65"/><circle cx="352.0" cy="431.6" r="2.65"/><circle cx="382.1" cy="401.5" r="2.65"/><circle cx="407.4" cy="377.0" r="2.65"/><circle cx="390.6" cy="393.2" r="2.65"/><circle cx="375.3" cy="407.9" r="2.65"/><circle cx="401.5" cy="382.7" r="2.65"/><circle cx="346.7" cy="437.1" r="2.65"/><circle cx="352.7" cy="431.1" r="2.65"/><circle cx="382.5" cy="401.8" r="2.65"/><circle cx="364.8" cy="419.4" r="2.65"/><circle cx="355.0" cy="429.8" r="2.65"/><circle cx="404.0" cy="381.2" r="2.65"/><circle cx="399.5" cy="384.6" r="2.65"/><circle cx="409.0" cy="374.2" r="2.65"/><circle cx="355.5" cy="428.5" r="2.65"/><circle cx="379.0" cy="403.6" r="2.65"/><circle cx="347.7" cy="437.1" r="2.65"/><circle cx="357.6" cy="425.8" r="2.65"/><circle cx="371.7" cy="413.3" r="2.65"/><circle cx="377.2" cy="405.6" r="2.65"/><circle cx="371.7" cy="410.6" r="2.65"/><circle cx="403.9" cy="380.3" r="2.65"/><circle cx="367.4" cy="416.6" r="2.65"/><circle cx="359.8" cy="423.2" r="2.65"/><circle cx="348.3" cy="436.1" r="2.65"/><circle cx="356.7" cy="427.9" r="2.65"/><circle cx="384.0" cy="398.9" r="2.65"/><circle cx="371.3" cy="412.5" r="2.65"/><circle cx="384.2" cy="399.5" r="2.65"/><circle cx="367.7" cy="415.1" r="2.65"/><circle cx="411.5" cy="372.4" r="2.65"/><circle cx="348.4" cy="434.5" r="2.65"/><circle cx="363.6" cy="419.2" r="2.65"/><circle cx="363.7" cy="420.9" r="2.65"/><circle cx="383.5" cy="400.2" r="2.65"/><circle cx="380.8" cy="400.3" r="2.65"/><circle cx="347.6" cy="436.8" r="2.65"/><circle cx="382.9" cy="400.6" r="2.65"/><circle cx="397.3" cy="388.4" r="2.65"/><circle cx="387.8" cy="396.5" r="2.65"/><circle cx="364.2" cy="420.3" r="2.65"/><circle cx="398.7" cy="383.7" r="2.65"/><circle cx="391.0" cy="394.2" r="2.65"/><circle cx="365.7" cy="418.0" r="2.65"/><circle cx="379.5" cy="405.7" r="2.65"/><circle cx="387.9" cy="396.5" r="2.65"/><circle cx="372.6" cy="410.3" r="2.65"/><circle cx="349.4" cy="434.8" r="2.65"/><circle cx="411.6" cy="371.7" r="2.65"/><circle cx="377.6" cy="406.6" r="2.65"/><circle cx="361.1" cy="422.3" r="2.65"/><circle cx="368.8" cy="415.0" r="2.65"/><circle cx="403.7" cy="380.1" r="2.65"/><circle cx="375.7" cy="409.1" r="2.65"/><circle cx="365.6" cy="417.8" r="2.65"/><circle cx="356.7" cy="426.6" r="2.65"/><circle cx="366.0" cy="417.5" r="2.65"/><circle cx="394.1" cy="391.7" r="2.65"/><circle cx="368.2" cy="416.3" r="2.65"/><circle cx="407.1" cy="377.1" r="2.65"/><circle cx="357.3" cy="426.8" r="2.65"/><circle cx="384.3" cy="398.6" r="2.65"/><circle cx="397.3" cy="386.6" r="2.65"/><circle cx="374.1" cy="409.5" r="2.65"/><circle cx="377.8" cy="406.2" r="2.65"/><circle cx="405.6" cy="378.4" r="2.65"/><circle cx="346.9" cy="436.0" r="2.65"/><circle cx="356.4" cy="427.8" r="2.65"/><circle cx="360.0" cy="422.6" r="2.65"/><circle cx="372.1" cy="411.2" r="2.65"/><circle cx="403.3" cy="379.5" r="2.65"/><circle cx="388.8" cy="394.5" r="2.65"/><circle cx="409.9" cy="372.7" r="2.65"/><circle cx="385.6" cy="396.7" r="2.65"/><circle cx="404.0" cy="379.1" r="2.65"/><circle cx="368.2" cy="415.2" r="2.65"/><circle cx="381.3" cy="402.0" r="2.65"/><circle cx="404.0" cy="381.1" r="2.65"/><circle cx="359.6" cy="425.9" r="2.65"/><circle cx="367.3" cy="416.6" r="2.65"/><circle cx="372.5" cy="412.5" r="2.65"/><circle cx="390.9" cy="393.1" r="2.65"/><circle cx="373.1" cy="410.4" r="2.65"/><circle cx="348.4" cy="435.9" r="2.65"/><circle cx="378.5" cy="405.8" r="2.65"/><circle cx="385.4" cy="398.4" r="2.65"/><circle cx="346.3" cy="436.3" r="2.65"/><circle cx="407.4" cy="379.0" r="2.65"/><circle cx="349.1" cy="435.7" r="2.65"/><circle cx="386.5" cy="397.4" r="2.65"/><circle cx="351.6" cy="433.1" r="2.65"/><circle cx="355.8" cy="427.2" r="2.65"/><circle cx="351.4" cy="431.3" r="2.65"/><circle cx="399.9" cy="384.9" r="2.65"/><circle cx="384.8" cy="398.4" r="2.65"/><circle cx="382.6" cy="401.8" r="2.65"/><circle cx="367.5" cy="417.3" r="2.65"/><circle cx="395.0" cy="388.8" r="2.65"/><circle cx="396.5" cy="385.9" r="2.65"/><circle cx="397.4" cy="387.0" r="2.65"/><circle cx="410.9" cy="371.7" r="2.65"/><circle cx="375.7" cy="408.2" r="2.65"/><circle cx="408.4" cy="374.5" r="2.65"/><circle cx="354.2" cy="428.8" r="2.65"/><circle cx="389.3" cy="394.4" r="2.65"/><circle cx="397.3" cy="388.3" r="2.65"/><circle cx="360.6" cy="421.2" r="2.65"/><circle cx="396.1" cy="387.6" r="2.65"/><circle cx="354.3" cy="429.6" r="2.65"/><circle cx="349.4" cy="435.5" r="2.65"/><circle cx="357.5" cy="426.4" r="2.65"/><circle cx="408.4" cy="375.9" r="2.65"/><circle cx="357.2" cy="426.4" r="2.65"/><circle cx="394.8" cy="388.5" r="2.65"/><circle cx="347.3" cy="436.6" r="2.65"/><circle cx="397.5" cy="386.2" r="2.65"/><circle cx="378.8" cy="402.4" r="2.65"/><circle cx="388.0" cy="396.6" r="2.65"/><circle cx="376.2" cy="406.2" r="2.65"/><circle cx="367.1" cy="416.4" r="2.65"/><circle cx="394.5" cy="389.5" r="2.65"/><circle cx="349.7" cy="434.6" r="2.65"/><circle cx="403.3" cy="381.3" r="2.65"/><circle cx="349.4" cy="435.2" r="2.65"/><circle cx="407.0" cy="377.3" r="2.65"/><circle cx="408.7" cy="375.7" r="2.65"/><circle cx="362.2" cy="422.1" r="2.65"/><circle cx="362.9" cy="421.5" r="2.65"/><circle cx="359.0" cy="424.7" r="2.65"/><circle cx="396.2" cy="388.0" r="2.65"/><circle cx="412.0" cy="372.6" r="2.65"/><circle cx="359.9" cy="424.5" r="2.65"/><circle cx="403.2" cy="380.9" r="2.65"/><circle cx="403.6" cy="380.4" r="2.65"/><circle cx="400.5" cy="381.9" r="2.65"/><circle cx="364.3" cy="420.1" r="2.65"/><circle cx="405.1" cy="377.9" r="2.65"/><circle cx="356.2" cy="428.3" r="2.65"/><circle cx="375.7" cy="409.1" r="2.65"/><circle cx="384.2" cy="399.1" r="2.65"/><circle cx="404.6" cy="379.7" r="2.65"/><circle cx="369.5" cy="414.0" r="2.65"/><circle cx="357.6" cy="428.1" r="2.65"/><circle cx="403.3" cy="379.9" r="2.65"/><circle cx="347.0" cy="436.6" r="2.65"/><circle cx="352.8" cy="431.0" r="2.65"/><circle cx="406.5" cy="377.5" r="2.65"/><circle cx="355.5" cy="428.6" r="2.65"/><circle cx="356.7" cy="427.7" r="2.65"/><circle cx="391.1" cy="392.0" r="2.65"/><circle cx="406.9" cy="376.6" r="2.65"/><circle cx="393.4" cy="388.6" r="2.65"/><circle cx="347.5" cy="437.8" r="2.65"/><circle cx="361.1" cy="422.5" r="2.65"/><circle cx="347.9" cy="437.1" r="2.65"/><circle cx="379.2" cy="404.4" r="2.65"/><circle cx="352.4" cy="430.7" r="2.65"/><circle cx="346.7" cy="436.1" r="2.65"/><circle cx="404.3" cy="379.7" r="2.65"/><circle cx="353.4" cy="431.1" r="2.65"/><circle cx="374.1" cy="409.6" r="2.65"/><circle cx="357.3" cy="426.8" r="2.65"/><circle cx="394.8" cy="389.4" r="2.65"/><circle cx="378.9" cy="404.2" r="2.65"/><circle cx="378.6" cy="404.6" r="2.65"/><circle cx="406.9" cy="377.4" r="2.65"/><circle cx="410.2" cy="373.3" r="2.65"/><circle cx="404.6" cy="379.4" r="2.65"/><circle cx="357.2" cy="427.4" r="2.65"/><circle cx="363.1" cy="420.6" r="2.65"/><circle cx="379.5" cy="404.2" r="2.65"/><circle cx="372.7" cy="411.8" r="2.65"/><circle cx="346.1" cy="437.8" r="2.65"/><circle cx="391.5" cy="392.9" r="2.65"/><circle cx="382.1" cy="402.5" r="2.65"/><circle cx="391.6" cy="390.4" r="2.65"/><circle cx="393.5" cy="390.5" r="2.65"/><circle cx="372.1" cy="412.0" r="2.65"/><circle cx="410.6" cy="372.6" r="2.65"/><circle cx="371.3" cy="413.1" r="2.65"/><circle cx="354.9" cy="428.5" r="2.65"/><circle cx="412.3" cy="370.5" r="2.65"/><circle cx="407.5" cy="376.4" r="2.65"/><circle cx="362.4" cy="422.1" r="2.65"/><circle cx="361.5" cy="423.0" r="2.65"/><circle cx="358.6" cy="424.0" r="2.65"/><circle cx="397.9" cy="384.8" r="2.65"/><circle cx="406.3" cy="376.4" r="2.65"/><circle cx="367.1" cy="416.3" r="2.65"/><circle cx="388.7" cy="395.8" r="2.65"/><circle cx="410.5" cy="373.7" r="2.65"/><circle cx="345.4" cy="438.1" r="2.65"/><circle cx="379.5" cy="405.9" r="2.65"/><circle cx="385.1" cy="398.0" r="2.65"/><circle cx="387.6" cy="396.2" r="2.65"/><circle cx="395.2" cy="389.6" r="2.65"/><circle cx="371.7" cy="411.1" r="2.65"/><circle cx="380.6" cy="404.1" r="2.65"/><circle cx="366.9" cy="417.8" r="2.65"/><circle cx="387.5" cy="396.8" r="2.65"/><circle cx="386.4" cy="397.5" r="2.65"/><circle cx="363.1" cy="419.9" r="2.65"/><circle cx="393.7" cy="390.6" r="2.65"/><circle cx="380.3" cy="404.0" r="2.65"/><circle cx="354.9" cy="429.0" r="2.65"/><circle cx="407.5" cy="377.5" r="2.65"/><circle cx="380.7" cy="403.2" r="2.65"/><circle cx="399.9" cy="383.9" r="2.65"/><circle cx="400.5" cy="382.9" r="2.65"/><circle cx="376.2" cy="408.6" r="2.65"/><circle cx="405.3" cy="379.9" r="2.65"/><circle cx="403.5" cy="379.5" r="2.65"/><circle cx="401.1" cy="382.5" r="2.65"/><circle cx="400.2" cy="383.3" r="2.65"/><circle cx="362.2" cy="421.3" r="2.65"/><circle cx="352.2" cy="432.7" r="2.65"/><circle cx="380.3" cy="402.2" r="2.65"/><circle cx="375.7" cy="407.3" r="2.65"/><circle cx="412.2" cy="371.3" r="2.65"/><circle cx="391.9" cy="392.8" r="2.65"/><circle cx="398.9" cy="384.7" r="2.65"/><circle cx="396.2" cy="386.8" r="2.65"/><circle cx="369.9" cy="412.8" r="2.65"/><circle cx="380.3" cy="403.4" r="2.65"/><circle cx="368.1" cy="414.8" r="2.65"/><circle cx="370.9" cy="412.3" r="2.65"/><circle cx="383.6" cy="400.1" r="2.65"/><circle cx="349.2" cy="433.9" r="2.65"/><circle cx="363.8" cy="418.8" r="2.65"/><circle cx="367.1" cy="416.7" r="2.65"/><circle cx="351.5" cy="430.8" r="2.65"/><circle cx="388.0" cy="395.4" r="2.65"/><circle cx="373.7" cy="410.5" r="2.65"/><circle cx="398.5" cy="386.0" r="2.65"/><circle cx="348.3" cy="436.0" r="2.65"/><circle cx="375.0" cy="409.7" r="2.65"/><circle cx="365.1" cy="417.7" r="2.65"/><circle cx="372.7" cy="412.0" r="2.65"/><circle cx="369.0" cy="416.1" r="2.65"/><circle cx="371.2" cy="414.4" r="2.65"/><circle cx="358.2" cy="426.7" r="2.65"/><circle cx="410.5" cy="373.7" r="2.65"/><circle cx="390.0" cy="394.6" r="2.65"/><circle cx="367.4" cy="415.0" r="2.65"/><circle cx="370.8" cy="412.3" r="2.65"/><circle cx="380.6" cy="405.0" r="2.65"/><circle cx="396.1" cy="387.7" r="2.65"/><circle cx="347.1" cy="437.4" r="2.65"/><circle cx="376.3" cy="408.0" r="2.65"/><circle cx="401.6" cy="383.1" r="2.65"/><circle cx="405.0" cy="378.4" r="2.65"/><circle cx="374.8" cy="410.0" r="2.65"/><circle cx="400.6" cy="383.2" r="2.65"/><circle cx="390.3" cy="393.5" r="2.65"/><circle cx="348.1" cy="436.5" r="2.65"/><circle cx="390.9" cy="394.3" r="2.65"/><circle cx="397.0" cy="387.4" r="2.65"/><circle cx="353.3" cy="430.7" r="2.65"/><circle cx="400.2" cy="383.4" r="2.65"/><circle cx="352.2" cy="430.5" r="2.65"/><circle cx="383.2" cy="399.8" r="2.65"/><circle cx="349.0" cy="435.3" r="2.65"/><circle cx="377.7" cy="407.3" r="2.65"/><circle cx="349.0" cy="435.1" r="2.65"/><circle cx="384.5" cy="400.1" r="2.65"/><circle cx="412.3" cy="371.0" r="2.65"/><circle cx="355.1" cy="430.5" r="2.65"/><circle cx="367.8" cy="416.2" r="2.65"/><circle cx="411.6" cy="372.4" r="2.65"/><circle cx="363.8" cy="420.2" r="2.65"/><circle cx="362.4" cy="420.7" r="2.65"/><circle cx="402.9" cy="382.0" r="2.65"/><circle cx="373.5" cy="410.6" r="2.65"/><circle cx="348.8" cy="435.5" r="2.65"/><circle cx="399.1" cy="383.1" r="2.65"/><circle cx="402.8" cy="381.1" r="2.65"/><circle cx="348.8" cy="434.3" r="2.65"/><circle cx="381.3" cy="403.1" r="2.65"/><circle cx="378.1" cy="404.9" r="2.65"/><circle cx="384.5" cy="400.3" r="2.65"/><circle cx="358.8" cy="424.0" r="2.65"/><circle cx="407.0" cy="377.2" r="2.65"/><circle cx="366.4" cy="417.5" r="2.65"/><circle cx="381.1" cy="403.6" r="2.65"/><circle cx="367.0" cy="416.2" r="2.65"/><circle cx="363.7" cy="420.0" r="2.65"/><circle cx="393.0" cy="391.5" r="2.65"/><circle cx="399.1" cy="385.5" r="2.65"/><circle cx="408.0" cy="376.5" r="2.65"/><circle cx="375.2" cy="408.4" r="2.65"/><circle cx="374.4" cy="409.5" r="2.65"/><circle cx="388.2" cy="393.8" r="2.65"/><circle cx="350.2" cy="433.1" r="2.65"/><circle cx="385.3" cy="397.6" r="2.65"/><circle cx="383.0" cy="399.0" r="2.65"/><circle cx="399.0" cy="386.1" r="2.65"/><circle cx="390.6" cy="393.1" r="2.65"/><circle cx="365.1" cy="418.3" r="2.65"/><circle cx="355.1" cy="427.2" r="2.65"/><circle cx="406.9" cy="376.9" r="2.65"/><circle cx="351.7" cy="431.8" r="2.65"/><circle cx="397.9" cy="385.0" r="2.65"/><circle cx="389.5" cy="394.5" r="2.65"/><circle cx="362.6" cy="420.2" r="2.65"/><circle cx="355.7" cy="429.0" r="2.65"/><circle cx="413.3" cy="370.8" r="2.65"/><circle cx="425.8" cy="358.4" r="2.65"/><circle cx="417.1" cy="366.7" r="2.65"/><circle cx="417.5" cy="365.3" r="2.65"/><circle cx="421.4" cy="361.5" r="2.65"/><circle cx="417.6" cy="364.8" r="2.65"/><circle cx="425.9" cy="357.1" r="2.65"/><circle cx="428.2" cy="354.5" r="2.65"/><circle cx="418.7" cy="364.4" r="2.65"/><circle cx="422.7" cy="361.1" r="2.65"/><circle cx="416.0" cy="368.4" r="2.65"/><circle cx="419.9" cy="364.2" r="2.65"/><circle cx="424.1" cy="361.1" r="2.65"/><circle cx="414.2" cy="369.2" r="2.65"/><circle cx="425.7" cy="356.8" r="2.65"/><circle cx="428.4" cy="354.2" r="2.65"/><circle cx="427.5" cy="357.2" r="2.65"/><circle cx="418.0" cy="366.1" r="2.65"/><circle cx="424.5" cy="361.6" r="2.65"/><circle cx="413.9" cy="370.1" r="2.65"/><circle cx="420.2" cy="363.0" r="2.65"/><circle cx="421.1" cy="363.8" r="2.65"/><circle cx="413.8" cy="369.7" r="2.65"/><circle cx="426.8" cy="356.7" r="2.65"/><circle cx="426.0" cy="357.7" r="2.65"/><circle cx="412.9" cy="369.1" r="2.65"/><circle cx="422.0" cy="361.2" r="2.65"/><circle cx="427.6" cy="356.6" r="2.65"/><circle cx="423.0" cy="360.3" r="2.65"/><circle cx="419.6" cy="364.1" r="2.65"/><circle cx="416.4" cy="367.6" r="2.65"/><circle cx="425.1" cy="359.5" r="2.65"/><circle cx="417.2" cy="365.8" r="2.65"/><circle cx="413.9" cy="369.6" r="2.65"/><circle cx="421.3" cy="362.4" r="2.65"/><circle cx="419.8" cy="365.3" r="2.65"/><circle cx="412.9" cy="371.5" r="2.65"/><circle cx="422.8" cy="361.2" r="2.65"/><circle cx="414.5" cy="370.2" r="2.65"/><circle cx="418.4" cy="366.0" r="2.65"/><circle cx="423.1" cy="360.6" r="2.65"/><circle cx="427.5" cy="356.0" r="2.65"/><circle cx="417.7" cy="365.3" r="2.65"/><circle cx="420.1" cy="365.4" r="2.65"/><circle cx="414.8" cy="367.7" r="2.65"/><circle cx="414.3" cy="368.7" r="2.65"/><circle cx="420.4" cy="364.0" r="2.65"/><circle cx="419.9" cy="364.2" r="2.65"/><circle cx="415.0" cy="370.0" r="2.65"/><circle cx="418.3" cy="365.9" r="2.65"/><circle cx="415.6" cy="368.9" r="2.65"/><circle cx="414.4" cy="369.2" r="2.65"/><circle cx="416.3" cy="367.0" r="2.65"/><circle cx="426.7" cy="358.0" r="2.65"/><circle cx="412.6" cy="370.4" r="2.65"/><circle cx="425.1" cy="359.2" r="2.65"/><circle cx="421.6" cy="362.7" r="2.65"/><circle cx="424.5" cy="360.1" r="2.65"/><circle cx="414.9" cy="369.1" r="2.65"/><circle cx="418.7" cy="365.0" r="2.65"/><circle cx="420.7" cy="363.7" r="2.65"/><circle cx="413.8" cy="368.4" r="2.65"/><circle cx="421.7" cy="362.2" r="2.65"/><circle cx="425.0" cy="357.8" r="2.65"/><circle cx="423.8" cy="359.5" r="2.65"/><circle cx="422.0" cy="361.7" r="2.65"/><circle cx="428.2" cy="354.6" r="2.65"/><circle cx="423.5" cy="360.1" r="2.65"/><circle cx="425.5" cy="359.4" r="2.65"/><circle cx="419.8" cy="362.8" r="2.65"/><circle cx="427.2" cy="354.7" r="2.65"/><circle cx="419.0" cy="364.8" r="2.65"/><circle cx="418.9" cy="364.5" r="2.65"/><circle cx="424.2" cy="359.4" r="2.65"/><circle cx="423.3" cy="360.2" r="2.65"/><circle cx="414.7" cy="368.7" r="2.65"/><circle cx="415.6" cy="368.3" r="2.65"/><circle cx="428.1" cy="355.1" r="2.65"/><circle cx="443.2" cy="340.6" r="2.65"/><circle cx="435.8" cy="348.9" r="2.65"/><circle cx="440.0" cy="343.0" r="2.65"/><circle cx="437.9" cy="346.7" r="2.65"/><circle cx="431.4" cy="353.5" r="2.65"/><circle cx="440.1" cy="344.8" r="2.65"/><circle cx="429.8" cy="354.3" r="2.65"/><circle cx="430.9" cy="353.7" r="2.65"/><circle cx="442.7" cy="341.8" r="2.65"/><circle cx="430.5" cy="354.5" r="2.65"/><circle cx="440.7" cy="341.9" r="2.65"/><circle cx="439.5" cy="345.1" r="2.65"/><circle cx="440.8" cy="342.9" r="2.65"/><circle cx="434.9" cy="350.0" r="2.65"/><circle cx="440.7" cy="343.0" r="2.65"/><circle cx="432.9" cy="352.5" r="2.65"/><circle cx="442.7" cy="343.0" r="2.65"/><circle cx="430.2" cy="354.1" r="2.65"/><circle cx="442.8" cy="341.1" r="2.65"/><circle cx="440.9" cy="343.6" r="2.65"/><circle cx="431.9" cy="351.8" r="2.65"/><circle cx="432.0" cy="351.3" r="2.65"/><circle cx="435.8" cy="347.3" r="2.65"/><circle cx="439.0" cy="345.6" r="2.65"/><circle cx="434.3" cy="349.4" r="2.65"/><circle cx="438.6" cy="346.6" r="2.65"/><circle cx="442.4" cy="341.3" r="2.65"/><circle cx="429.8" cy="354.8" r="2.65"/><circle cx="438.1" cy="345.5" r="2.65"/><circle cx="437.3" cy="347.3" r="2.65"/><circle cx="440.8" cy="343.1" r="2.65"/><circle cx="435.7" cy="348.3" r="2.65"/><circle cx="428.7" cy="354.3" r="2.65"/><circle cx="434.7" cy="348.5" r="2.65"/><circle cx="437.4" cy="347.2" r="2.65"/><circle cx="431.6" cy="352.2" r="2.65"/><circle cx="433.7" cy="349.7" r="2.65"/><circle cx="432.8" cy="352.0" r="2.65"/><circle cx="429.8" cy="354.3" r="2.65"/><circle cx="449.8" cy="333.5" r="2.65"/><circle cx="453.0" cy="330.9" r="2.65"/><circle cx="453.3" cy="330.9" r="2.65"/><circle cx="443.8" cy="340.0" r="2.65"/><circle cx="447.2" cy="337.0" r="2.65"/><circle cx="457.4" cy="326.8" r="2.65"/><circle cx="456.4" cy="327.3" r="2.65"/><circle cx="452.2" cy="331.3" r="2.65"/><circle cx="450.6" cy="333.7" r="2.65"/><circle cx="457.3" cy="328.1" r="2.65"/><circle cx="446.0" cy="338.0" r="2.65"/><circle cx="455.5" cy="328.2" r="2.65"/><circle cx="443.2" cy="340.2" r="2.65"/><circle cx="445.8" cy="337.6" r="2.65"/><circle cx="455.2" cy="329.0" r="2.65"/><circle cx="446.9" cy="337.2" r="2.65"/><circle cx="451.4" cy="332.4" r="2.65"/><circle cx="456.0" cy="328.5" r="2.65"/></g>
<rect x="291.7" y="324.5" width="168.3" height="168.4" fill="none" stroke="#7a7a7a" stroke-width="1.2"/>
<path d="M291.7,492.9h1.8M460.0,492.9h-1.8M291.7,466.1h1.8M460.0,466.1h-1.8M291.7,439.2h1.8M460.0,439.2h-1.8M291.7,412.4h1.8M460.0,412.4h-1.8M291.7,385.6h1.8M460.0,385.6h-1.8M291.7,358.7h1.8M460.0,358.7h-1.8M291.7,331.9h1.8M460.0,331.9h-1.8M291.7,492.9v-1.8M291.7,324.5v1.8M345.3,492.9v-1.8M345.3,324.5v1.8M399.0,492.9v-1.8M399.0,324.5v1.8M452.6,492.9v-1.8M452.6,324.5v1.8" stroke="#444" stroke-width="0.8" fill="none"/>
<text x="288.1" y="496.9" text-anchor="end" font-size="9.3" textLength="5.6" lengthAdjust="spacingAndGlyphs" fill="#555" stroke="#555" stroke-width="0.25">0</text>
<text x="288.1" y="470.1" text-anchor="end" font-size="9.3" textLength="13.9" lengthAdjust="spacingAndGlyphs" fill="#555" stroke="#555" stroke-width="0.25">0.1</text>
<text x="288.1" y="443.2" text-anchor="end" font-size="9.3" textLength="13.9" lengthAdjust="spacingAndGlyphs" fill="#555" stroke="#555" stroke-width="0.25">0.2</text>
<text x="288.1" y="416.4" text-anchor="end" font-size="9.3" textLength="13.9" lengthAdjust="spacingAndGlyphs" fill="#555" stroke="#555" stroke-width="0.25">0.3</text>
<text x="288.1" y="389.6" text-anchor="end" font-size="9.3" textLength="13.9" lengthAdjust="spacingAndGlyphs" fill="#555" stroke="#555" stroke-width="0.25">0.4</text>
<text x="288.1" y="362.7" text-anchor="end" font-size="9.3" textLength="13.9" lengthAdjust="spacingAndGlyphs" fill="#555" stroke="#555" stroke-width="0.25">0.5</text>
<text x="288.1" y="335.9" text-anchor="end" font-size="9.3" textLength="13.9" lengthAdjust="spacingAndGlyphs" fill="#555" stroke="#555" stroke-width="0.25">0.6</text>
<text x="291.7" y="507.6" text-anchor="middle" font-size="9.3" textLength="5.6" lengthAdjust="spacingAndGlyphs" fill="#555" stroke="#555" stroke-width="0.25">0</text>
<text x="345.3" y="507.6" text-anchor="middle" font-size="9.3" textLength="13.9" lengthAdjust="spacingAndGlyphs" fill="#555" stroke="#555" stroke-width="0.25">0.2</text>
<text x="399.0" y="507.6" text-anchor="middle" font-size="9.3" textLength="13.9" lengthAdjust="spacingAndGlyphs" fill="#555" stroke="#555" stroke-width="0.25">0.4</text>
<text x="452.6" y="507.6" text-anchor="middle" font-size="9.3" textLength="13.9" lengthAdjust="spacingAndGlyphs" fill="#555" stroke="#555" stroke-width="0.25">0.6</text>
<text x="337.8" y="319.2" font-size="11.2" font-weight="bold" textLength="78.2" lengthAdjust="spacingAndGlyphs" fill="#111">All: R=0.99979</text>
<text x="376.2" y="522.4" text-anchor="middle" font-size="11.2" font-weight="bold" textLength="34.6" lengthAdjust="spacingAndGlyphs" fill="#262626">Target</text>
<text transform="translate(268.5,408.7) rotate(-90)" x="0" y="0" text-anchor="middle" font-size="11.2" font-weight="bold" textLength="150.5" lengthAdjust="spacingAndGlyphs" fill="#262626">Output ~= 1*Target + 0.0027</text>
<rect x="301.0" y="334.0" width="62" height="39" fill="#ffffff" stroke="#6e6e6e" stroke-width="1.1"/>
<circle cx="321.5" cy="341.6" r="2.55" fill="none" stroke="#3a3a3a" stroke-width="1.05"/>
<text x="338.6" y="345.6" font-size="8.5" fill="#1e1e1e" stroke="#1e1e1e" stroke-width="0.22">Data</text>
<line x1="305.8" y1="353.7" x2="335.8" y2="353.7" stroke="#555555" stroke-width="2.1"/>
<text x="338.6" y="357.2" font-size="8.5" fill="#1e1e1e" stroke="#1e1e1e" stroke-width="0.22">Fit</text>
<line x1="305.8" y1="365.4" x2="333.5" y2="365.4" stroke="#444" stroke-width="0.9" stroke-dasharray="1 1.8"/>
<text x="338.6" y="369.0" font-size="8.5" fill="#1e1e1e" stroke="#1e1e1e" stroke-width="0.22">Y = T</text>
</svg>
</body></html>
